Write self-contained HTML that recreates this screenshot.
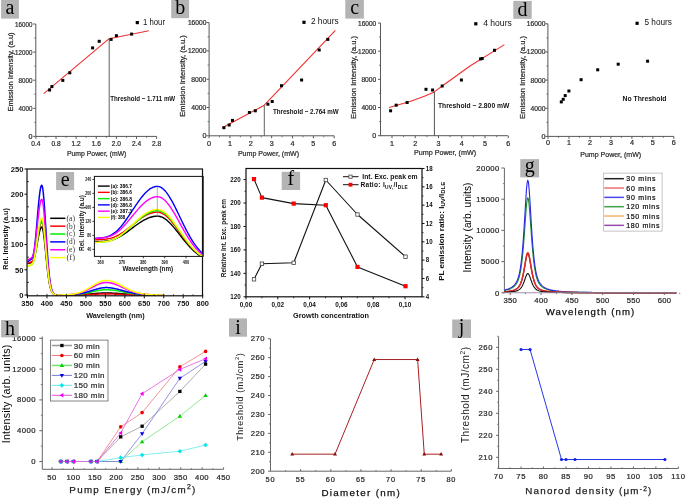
<!DOCTYPE html>
<html><head><meta charset="utf-8"><style>
html,body{margin:0;padding:0;background:#fff;}
svg{display:block;filter:blur(0.3px);}
</style></head><body>
<svg width="685" height="499" viewBox="0 0 685 499" font-family="Liberation Sans, Arial, sans-serif">
<rect width="685" height="499" fill="#fff"/>
<rect x="1.10" y="0.00" width="17.80" height="18.60" fill="#b4b4b4"/>
<text x="10.00" y="14.20" font-size="20" text-anchor="middle" fill="#000" font-family="Liberation Serif, Times New Roman, serif">a</text>
<line x1="35.80" y1="24.00" x2="35.80" y2="136.40" stroke="#585858" stroke-width="1" />
<line x1="35.80" y1="136.40" x2="156.60" y2="136.40" stroke="#585858" stroke-width="1" />
<line x1="33.30" y1="136.40" x2="35.80" y2="136.40" stroke="#585858" stroke-width="1" />
<text x="32.40" y="138.90" font-size="7.2" text-anchor="end" fill="#2a2a2a" stroke="#2a2a2a" stroke-width="0.22">0</text>
<line x1="33.30" y1="108.30" x2="35.80" y2="108.30" stroke="#585858" stroke-width="1" />
<text x="32.40" y="110.80" font-size="7.2" text-anchor="end" fill="#2a2a2a" textLength="14.00" lengthAdjust="spacingAndGlyphs" stroke="#2a2a2a" stroke-width="0.22">4000</text>
<line x1="33.30" y1="80.20" x2="35.80" y2="80.20" stroke="#585858" stroke-width="1" />
<text x="32.40" y="82.70" font-size="7.2" text-anchor="end" fill="#2a2a2a" textLength="14.00" lengthAdjust="spacingAndGlyphs" stroke="#2a2a2a" stroke-width="0.22">8000</text>
<line x1="33.30" y1="52.10" x2="35.80" y2="52.10" stroke="#585858" stroke-width="1" />
<text x="32.40" y="54.60" font-size="7.2" text-anchor="end" fill="#2a2a2a" textLength="17.30" lengthAdjust="spacingAndGlyphs" stroke="#2a2a2a" stroke-width="0.22">12000</text>
<line x1="33.30" y1="24.00" x2="35.80" y2="24.00" stroke="#585858" stroke-width="1" />
<text x="32.40" y="26.50" font-size="7.2" text-anchor="end" fill="#2a2a2a" textLength="17.30" lengthAdjust="spacingAndGlyphs" stroke="#2a2a2a" stroke-width="0.22">16000</text>
<line x1="34.30" y1="122.35" x2="35.80" y2="122.35" stroke="#585858" stroke-width="0.8" />
<line x1="34.30" y1="94.25" x2="35.80" y2="94.25" stroke="#585858" stroke-width="0.8" />
<line x1="34.30" y1="66.15" x2="35.80" y2="66.15" stroke="#585858" stroke-width="0.8" />
<line x1="34.30" y1="38.05" x2="35.80" y2="38.05" stroke="#585858" stroke-width="0.8" />
<line x1="35.90" y1="136.40" x2="35.90" y2="138.90" stroke="#585858" stroke-width="1" />
<text x="35.90" y="145.60" font-size="7.2" text-anchor="middle" fill="#2a2a2a" textLength="9.20" lengthAdjust="spacingAndGlyphs" stroke="#2a2a2a" stroke-width="0.22">0.4</text>
<line x1="56.02" y1="136.40" x2="56.02" y2="138.90" stroke="#585858" stroke-width="1" />
<text x="56.02" y="145.60" font-size="7.2" text-anchor="middle" fill="#2a2a2a" textLength="9.20" lengthAdjust="spacingAndGlyphs" stroke="#2a2a2a" stroke-width="0.22">0.8</text>
<line x1="76.14" y1="136.40" x2="76.14" y2="138.90" stroke="#585858" stroke-width="1" />
<text x="76.14" y="145.60" font-size="7.2" text-anchor="middle" fill="#2a2a2a" textLength="9.20" lengthAdjust="spacingAndGlyphs" stroke="#2a2a2a" stroke-width="0.22">1.2</text>
<line x1="96.26" y1="136.40" x2="96.26" y2="138.90" stroke="#585858" stroke-width="1" />
<text x="96.26" y="145.60" font-size="7.2" text-anchor="middle" fill="#2a2a2a" textLength="9.20" lengthAdjust="spacingAndGlyphs" stroke="#2a2a2a" stroke-width="0.22">1.6</text>
<line x1="116.38" y1="136.40" x2="116.38" y2="138.90" stroke="#585858" stroke-width="1" />
<text x="116.38" y="145.60" font-size="7.2" text-anchor="middle" fill="#2a2a2a" textLength="9.20" lengthAdjust="spacingAndGlyphs" stroke="#2a2a2a" stroke-width="0.22">2.0</text>
<line x1="136.50" y1="136.40" x2="136.50" y2="138.90" stroke="#585858" stroke-width="1" />
<text x="136.50" y="145.60" font-size="7.2" text-anchor="middle" fill="#2a2a2a" textLength="9.20" lengthAdjust="spacingAndGlyphs" stroke="#2a2a2a" stroke-width="0.22">2.4</text>
<line x1="156.62" y1="136.40" x2="156.62" y2="138.90" stroke="#585858" stroke-width="1" />
<text x="156.62" y="145.60" font-size="7.2" text-anchor="middle" fill="#2a2a2a" textLength="9.20" lengthAdjust="spacingAndGlyphs" stroke="#2a2a2a" stroke-width="0.22">2.8</text>
<line x1="45.96" y1="136.40" x2="45.96" y2="137.90" stroke="#585858" stroke-width="0.8" />
<line x1="66.08" y1="136.40" x2="66.08" y2="137.90" stroke="#585858" stroke-width="0.8" />
<line x1="86.20" y1="136.40" x2="86.20" y2="137.90" stroke="#585858" stroke-width="0.8" />
<line x1="106.32" y1="136.40" x2="106.32" y2="137.90" stroke="#585858" stroke-width="0.8" />
<line x1="126.44" y1="136.40" x2="126.44" y2="137.90" stroke="#585858" stroke-width="0.8" />
<line x1="146.56" y1="136.40" x2="146.56" y2="137.90" stroke="#585858" stroke-width="0.8" />
<text x="12.90" y="72.00" font-size="7.2" text-anchor="middle" fill="#2a2a2a" textLength="79.20" lengthAdjust="spacingAndGlyphs" transform="rotate(-90 12.90 72.00)" stroke="#2a2a2a" stroke-width="0.22">Emission Intensity, (a.u)</text>
<text x="96.70" y="155.70" font-size="7.2" text-anchor="middle" fill="#2a2a2a" textLength="59.40" lengthAdjust="spacingAndGlyphs" stroke="#2a2a2a" stroke-width="0.22">Pump Power, (mW)</text>
<polyline points="43.70,93.60 109.10,38.70 148.80,30.80" fill="none" stroke="#f03030" stroke-width="1.1" stroke-linejoin="round" />
<line x1="109.20" y1="38.70" x2="109.20" y2="136.40" stroke="#505050" stroke-width="0.9" />
<rect x="48.10" y="88.50" width="3.00" height="3.00" fill="#000"/>
<rect x="50.40" y="85.10" width="3.00" height="3.00" fill="#000"/>
<rect x="61.30" y="78.90" width="3.00" height="3.00" fill="#000"/>
<rect x="68.30" y="71.30" width="3.00" height="3.00" fill="#000"/>
<rect x="91.10" y="46.40" width="3.00" height="3.00" fill="#000"/>
<rect x="97.70" y="39.80" width="3.00" height="3.00" fill="#000"/>
<rect x="109.60" y="37.90" width="3.00" height="3.00" fill="#000"/>
<rect x="114.90" y="34.20" width="3.00" height="3.00" fill="#000"/>
<rect x="130.10" y="32.60" width="3.00" height="3.00" fill="#000"/>
<rect x="135.70" y="21.00" width="3.20" height="3.20" fill="#000"/>
<text x="143.00" y="24.80" font-size="9" fill="#111" textLength="22.00" lengthAdjust="spacingAndGlyphs">1 hour</text>
<text x="110.20" y="100.60" font-size="7" font-weight="bold" fill="#111" textLength="65.00" lengthAdjust="spacingAndGlyphs">Threshold ~ 1.711 mW</text>
<rect x="171.20" y="0.00" width="17.90" height="18.20" fill="#b4b4b4"/>
<text x="180.15" y="14.20" font-size="20" text-anchor="middle" fill="#000" font-family="Liberation Serif, Times New Roman, serif">b</text>
<line x1="209.10" y1="22.60" x2="209.10" y2="135.80" stroke="#585858" stroke-width="1" />
<line x1="209.10" y1="135.80" x2="334.20" y2="135.80" stroke="#585858" stroke-width="1" />
<line x1="206.60" y1="135.80" x2="209.10" y2="135.80" stroke="#585858" stroke-width="1" />
<text x="206.40" y="138.30" font-size="7.2" text-anchor="end" fill="#2a2a2a" stroke="#2a2a2a" stroke-width="0.22">0</text>
<line x1="206.60" y1="107.50" x2="209.10" y2="107.50" stroke="#585858" stroke-width="1" />
<text x="206.40" y="110.00" font-size="7.2" text-anchor="end" fill="#2a2a2a" textLength="15.10" lengthAdjust="spacingAndGlyphs" stroke="#2a2a2a" stroke-width="0.22">4000</text>
<line x1="206.60" y1="79.20" x2="209.10" y2="79.20" stroke="#585858" stroke-width="1" />
<text x="206.40" y="81.70" font-size="7.2" text-anchor="end" fill="#2a2a2a" textLength="15.10" lengthAdjust="spacingAndGlyphs" stroke="#2a2a2a" stroke-width="0.22">8000</text>
<line x1="206.60" y1="50.90" x2="209.10" y2="50.90" stroke="#585858" stroke-width="1" />
<text x="206.40" y="53.40" font-size="7.2" text-anchor="end" fill="#2a2a2a" textLength="18.50" lengthAdjust="spacingAndGlyphs" stroke="#2a2a2a" stroke-width="0.22">12000</text>
<line x1="206.60" y1="22.60" x2="209.10" y2="22.60" stroke="#585858" stroke-width="1" />
<text x="206.40" y="25.10" font-size="7.2" text-anchor="end" fill="#2a2a2a" textLength="18.50" lengthAdjust="spacingAndGlyphs" stroke="#2a2a2a" stroke-width="0.22">16000</text>
<line x1="207.60" y1="121.65" x2="209.10" y2="121.65" stroke="#585858" stroke-width="0.8" />
<line x1="207.60" y1="93.35" x2="209.10" y2="93.35" stroke="#585858" stroke-width="0.8" />
<line x1="207.60" y1="65.05" x2="209.10" y2="65.05" stroke="#585858" stroke-width="0.8" />
<line x1="207.60" y1="36.75" x2="209.10" y2="36.75" stroke="#585858" stroke-width="0.8" />
<line x1="209.10" y1="135.80" x2="209.10" y2="138.30" stroke="#585858" stroke-width="1" />
<text x="209.10" y="145.50" font-size="7.2" text-anchor="middle" fill="#2a2a2a" stroke="#2a2a2a" stroke-width="0.22">0</text>
<line x1="229.95" y1="135.80" x2="229.95" y2="138.30" stroke="#585858" stroke-width="1" />
<text x="229.95" y="145.50" font-size="7.2" text-anchor="middle" fill="#2a2a2a" stroke="#2a2a2a" stroke-width="0.22">1</text>
<line x1="250.80" y1="135.80" x2="250.80" y2="138.30" stroke="#585858" stroke-width="1" />
<text x="250.80" y="145.50" font-size="7.2" text-anchor="middle" fill="#2a2a2a" stroke="#2a2a2a" stroke-width="0.22">2</text>
<line x1="271.65" y1="135.80" x2="271.65" y2="138.30" stroke="#585858" stroke-width="1" />
<text x="271.65" y="145.50" font-size="7.2" text-anchor="middle" fill="#2a2a2a" stroke="#2a2a2a" stroke-width="0.22">3</text>
<line x1="292.50" y1="135.80" x2="292.50" y2="138.30" stroke="#585858" stroke-width="1" />
<text x="292.50" y="145.50" font-size="7.2" text-anchor="middle" fill="#2a2a2a" stroke="#2a2a2a" stroke-width="0.22">4</text>
<line x1="313.35" y1="135.80" x2="313.35" y2="138.30" stroke="#585858" stroke-width="1" />
<text x="313.35" y="145.50" font-size="7.2" text-anchor="middle" fill="#2a2a2a" stroke="#2a2a2a" stroke-width="0.22">5</text>
<line x1="334.20" y1="135.80" x2="334.20" y2="138.30" stroke="#585858" stroke-width="1" />
<text x="334.20" y="145.50" font-size="7.2" text-anchor="middle" fill="#2a2a2a" stroke="#2a2a2a" stroke-width="0.22">6</text>
<line x1="219.53" y1="135.80" x2="219.53" y2="137.30" stroke="#585858" stroke-width="0.8" />
<line x1="240.38" y1="135.80" x2="240.38" y2="137.30" stroke="#585858" stroke-width="0.8" />
<line x1="261.23" y1="135.80" x2="261.23" y2="137.30" stroke="#585858" stroke-width="0.8" />
<line x1="282.07" y1="135.80" x2="282.07" y2="137.30" stroke="#585858" stroke-width="0.8" />
<line x1="302.93" y1="135.80" x2="302.93" y2="137.30" stroke="#585858" stroke-width="0.8" />
<line x1="323.77" y1="135.80" x2="323.77" y2="137.30" stroke="#585858" stroke-width="0.8" />
<text x="184.90" y="76.00" font-size="7.2" text-anchor="middle" fill="#2a2a2a" textLength="81.30" lengthAdjust="spacingAndGlyphs" transform="rotate(-90 184.90 76.00)" stroke="#2a2a2a" stroke-width="0.22">Emission Intensity, (a.u.)</text>
<text x="268.50" y="155.60" font-size="7.2" text-anchor="middle" fill="#2a2a2a" textLength="61.20" lengthAdjust="spacingAndGlyphs" stroke="#2a2a2a" stroke-width="0.22">Pump Power, (mW)</text>
<polyline points="222.30,127.70 264.30,105.20 335.40,30.40" fill="none" stroke="#f03030" stroke-width="1.1" stroke-linejoin="round" />
<line x1="264.30" y1="105.20" x2="264.30" y2="135.80" stroke="#505050" stroke-width="0.9" />
<rect x="222.40" y="126.20" width="3.00" height="3.00" fill="#000"/>
<rect x="227.70" y="123.50" width="3.00" height="3.00" fill="#000"/>
<rect x="231.00" y="118.90" width="3.00" height="3.00" fill="#000"/>
<rect x="247.90" y="111.00" width="3.00" height="3.00" fill="#000"/>
<rect x="253.80" y="109.30" width="3.00" height="3.00" fill="#000"/>
<rect x="266.40" y="102.70" width="3.00" height="3.00" fill="#000"/>
<rect x="270.70" y="100.00" width="3.00" height="3.00" fill="#000"/>
<rect x="280.00" y="84.20" width="3.00" height="3.00" fill="#000"/>
<rect x="300.10" y="78.50" width="3.00" height="3.00" fill="#000"/>
<rect x="317.70" y="48.50" width="3.00" height="3.00" fill="#000"/>
<rect x="326.30" y="37.90" width="3.00" height="3.00" fill="#000"/>
<rect x="302.40" y="20.70" width="3.20" height="3.20" fill="#000"/>
<text x="310.90" y="24.20" font-size="9" fill="#111" textLength="27.80" lengthAdjust="spacingAndGlyphs">2 hours</text>
<text x="272.90" y="114.20" font-size="7" font-weight="bold" fill="#111" textLength="65.80" lengthAdjust="spacingAndGlyphs">Threshold ~ 2.764 mW</text>
<rect x="345.30" y="0.00" width="18.60" height="18.60" fill="#b4b4b4"/>
<text x="354.60" y="14.10" font-size="20" text-anchor="middle" fill="#000" font-family="Liberation Serif, Times New Roman, serif">c</text>
<line x1="380.50" y1="23.00" x2="380.50" y2="135.70" stroke="#585858" stroke-width="1" />
<line x1="380.50" y1="135.70" x2="507.90" y2="135.70" stroke="#585858" stroke-width="1" />
<line x1="378.00" y1="135.70" x2="380.50" y2="135.70" stroke="#585858" stroke-width="1" />
<text x="376.20" y="138.20" font-size="7.2" text-anchor="end" fill="#2a2a2a" stroke="#2a2a2a" stroke-width="0.22">0</text>
<line x1="378.00" y1="107.52" x2="380.50" y2="107.52" stroke="#585858" stroke-width="1" />
<text x="376.20" y="110.02" font-size="7.2" text-anchor="end" fill="#2a2a2a" textLength="14.80" lengthAdjust="spacingAndGlyphs" stroke="#2a2a2a" stroke-width="0.22">4000</text>
<line x1="378.00" y1="79.35" x2="380.50" y2="79.35" stroke="#585858" stroke-width="1" />
<text x="376.20" y="81.85" font-size="7.2" text-anchor="end" fill="#2a2a2a" textLength="14.80" lengthAdjust="spacingAndGlyphs" stroke="#2a2a2a" stroke-width="0.22">8000</text>
<line x1="378.00" y1="51.17" x2="380.50" y2="51.17" stroke="#585858" stroke-width="1" />
<text x="376.20" y="53.67" font-size="7.2" text-anchor="end" fill="#2a2a2a" textLength="18.20" lengthAdjust="spacingAndGlyphs" stroke="#2a2a2a" stroke-width="0.22">12000</text>
<line x1="378.00" y1="23.00" x2="380.50" y2="23.00" stroke="#585858" stroke-width="1" />
<text x="376.20" y="25.50" font-size="7.2" text-anchor="end" fill="#2a2a2a" textLength="18.20" lengthAdjust="spacingAndGlyphs" stroke="#2a2a2a" stroke-width="0.22">16000</text>
<line x1="379.00" y1="121.61" x2="380.50" y2="121.61" stroke="#585858" stroke-width="0.8" />
<line x1="379.00" y1="93.44" x2="380.50" y2="93.44" stroke="#585858" stroke-width="0.8" />
<line x1="379.00" y1="65.26" x2="380.50" y2="65.26" stroke="#585858" stroke-width="0.8" />
<line x1="379.00" y1="37.09" x2="380.50" y2="37.09" stroke="#585858" stroke-width="0.8" />
<line x1="392.00" y1="135.70" x2="392.00" y2="138.20" stroke="#585858" stroke-width="1" />
<text x="392.00" y="145.90" font-size="7.2" text-anchor="middle" fill="#2a2a2a" stroke="#2a2a2a" stroke-width="0.22">1</text>
<line x1="415.25" y1="135.70" x2="415.25" y2="138.20" stroke="#585858" stroke-width="1" />
<text x="415.25" y="145.90" font-size="7.2" text-anchor="middle" fill="#2a2a2a" stroke="#2a2a2a" stroke-width="0.22">2</text>
<line x1="438.50" y1="135.70" x2="438.50" y2="138.20" stroke="#585858" stroke-width="1" />
<text x="438.50" y="145.90" font-size="7.2" text-anchor="middle" fill="#2a2a2a" stroke="#2a2a2a" stroke-width="0.22">3</text>
<line x1="461.75" y1="135.70" x2="461.75" y2="138.20" stroke="#585858" stroke-width="1" />
<text x="461.75" y="145.90" font-size="7.2" text-anchor="middle" fill="#2a2a2a" stroke="#2a2a2a" stroke-width="0.22">4</text>
<line x1="485.00" y1="135.70" x2="485.00" y2="138.20" stroke="#585858" stroke-width="1" />
<text x="485.00" y="145.90" font-size="7.2" text-anchor="middle" fill="#2a2a2a" stroke="#2a2a2a" stroke-width="0.22">5</text>
<line x1="508.25" y1="135.70" x2="508.25" y2="138.20" stroke="#585858" stroke-width="1" />
<text x="508.25" y="145.90" font-size="7.2" text-anchor="middle" fill="#2a2a2a" stroke="#2a2a2a" stroke-width="0.22">6</text>
<line x1="403.62" y1="135.70" x2="403.62" y2="137.20" stroke="#585858" stroke-width="0.8" />
<line x1="426.88" y1="135.70" x2="426.88" y2="137.20" stroke="#585858" stroke-width="0.8" />
<line x1="450.12" y1="135.70" x2="450.12" y2="137.20" stroke="#585858" stroke-width="0.8" />
<line x1="473.38" y1="135.70" x2="473.38" y2="137.20" stroke="#585858" stroke-width="0.8" />
<line x1="496.62" y1="135.70" x2="496.62" y2="137.20" stroke="#585858" stroke-width="0.8" />
<text x="355.80" y="77.40" font-size="7.2" text-anchor="middle" fill="#2a2a2a" textLength="83.00" lengthAdjust="spacingAndGlyphs" transform="rotate(-90 355.80 77.40)" stroke="#2a2a2a" stroke-width="0.22">Emission Intensity, (a.u.)</text>
<text x="445.00" y="155.40" font-size="7.2" text-anchor="middle" fill="#2a2a2a" textLength="62.20" lengthAdjust="spacingAndGlyphs" stroke="#2a2a2a" stroke-width="0.22">Pump Power, (mW)</text>
<line x1="380.50" y1="135.70" x2="381.50" y2="135.70" stroke="#585858" stroke-width="1" />
<polyline points="389.00,107.50 410.00,101.50 425.00,96.00 434.30,91.90 445.00,84.00 470.00,66.00 504.40,44.60" fill="none" stroke="#f03030" stroke-width="1.1" stroke-linejoin="round" />
<line x1="434.40" y1="92.00" x2="434.40" y2="135.70" stroke="#404040" stroke-width="0.9" />
<rect x="389.10" y="109.30" width="3.00" height="3.00" fill="#000"/>
<rect x="394.70" y="103.70" width="3.00" height="3.00" fill="#000"/>
<rect x="405.60" y="101.00" width="3.00" height="3.00" fill="#000"/>
<rect x="424.50" y="87.80" width="3.00" height="3.00" fill="#000"/>
<rect x="431.10" y="88.50" width="3.00" height="3.00" fill="#000"/>
<rect x="440.70" y="84.50" width="3.00" height="3.00" fill="#000"/>
<rect x="459.90" y="78.50" width="3.00" height="3.00" fill="#000"/>
<rect x="479.10" y="57.40" width="3.00" height="3.00" fill="#000"/>
<rect x="480.70" y="57.00" width="3.00" height="3.00" fill="#000"/>
<rect x="493.00" y="48.80" width="3.00" height="3.00" fill="#000"/>
<rect x="474.20" y="22.20" width="3.20" height="3.20" fill="#000"/>
<text x="483.20" y="25.80" font-size="9" fill="#111" textLength="28.60" lengthAdjust="spacingAndGlyphs">4 hours</text>
<text x="437.90" y="108.40" font-size="7" font-weight="bold" fill="#111" textLength="71.50" lengthAdjust="spacingAndGlyphs">Threshold ~ 2.800 mW</text>
<rect x="513.30" y="0.90" width="18.40" height="17.90" fill="#b4b4b4"/>
<text x="522.50" y="16.40" font-size="20" text-anchor="middle" fill="#000" font-family="Liberation Serif, Times New Roman, serif">d</text>
<line x1="547.90" y1="23.80" x2="547.90" y2="136.40" stroke="#585858" stroke-width="1" />
<line x1="547.90" y1="136.40" x2="673.80" y2="136.40" stroke="#585858" stroke-width="1" />
<line x1="545.40" y1="136.40" x2="547.90" y2="136.40" stroke="#585858" stroke-width="1" />
<text x="545.40" y="138.90" font-size="7.2" text-anchor="end" fill="#2a2a2a" stroke="#2a2a2a" stroke-width="0.22">0</text>
<line x1="545.40" y1="108.25" x2="547.90" y2="108.25" stroke="#585858" stroke-width="1" />
<text x="545.40" y="110.75" font-size="7.2" text-anchor="end" fill="#2a2a2a" textLength="15.00" lengthAdjust="spacingAndGlyphs" stroke="#2a2a2a" stroke-width="0.22">4000</text>
<line x1="545.40" y1="80.10" x2="547.90" y2="80.10" stroke="#585858" stroke-width="1" />
<text x="545.40" y="82.60" font-size="7.2" text-anchor="end" fill="#2a2a2a" textLength="15.00" lengthAdjust="spacingAndGlyphs" stroke="#2a2a2a" stroke-width="0.22">8000</text>
<line x1="545.40" y1="51.95" x2="547.90" y2="51.95" stroke="#585858" stroke-width="1" />
<text x="545.40" y="54.45" font-size="7.2" text-anchor="end" fill="#2a2a2a" textLength="18.60" lengthAdjust="spacingAndGlyphs" stroke="#2a2a2a" stroke-width="0.22">12000</text>
<line x1="545.40" y1="23.80" x2="547.90" y2="23.80" stroke="#585858" stroke-width="1" />
<text x="545.40" y="26.30" font-size="7.2" text-anchor="end" fill="#2a2a2a" textLength="18.60" lengthAdjust="spacingAndGlyphs" stroke="#2a2a2a" stroke-width="0.22">16000</text>
<line x1="546.40" y1="122.33" x2="547.90" y2="122.33" stroke="#585858" stroke-width="0.8" />
<line x1="546.40" y1="94.18" x2="547.90" y2="94.18" stroke="#585858" stroke-width="0.8" />
<line x1="546.40" y1="66.03" x2="547.90" y2="66.03" stroke="#585858" stroke-width="0.8" />
<line x1="546.40" y1="37.88" x2="547.90" y2="37.88" stroke="#585858" stroke-width="0.8" />
<line x1="548.00" y1="136.40" x2="548.00" y2="138.90" stroke="#585858" stroke-width="1" />
<text x="548.00" y="145.20" font-size="7.2" text-anchor="middle" fill="#2a2a2a" stroke="#2a2a2a" stroke-width="0.22">0</text>
<line x1="568.97" y1="136.40" x2="568.97" y2="138.90" stroke="#585858" stroke-width="1" />
<text x="568.97" y="145.20" font-size="7.2" text-anchor="middle" fill="#2a2a2a" stroke="#2a2a2a" stroke-width="0.22">1</text>
<line x1="589.94" y1="136.40" x2="589.94" y2="138.90" stroke="#585858" stroke-width="1" />
<text x="589.94" y="145.20" font-size="7.2" text-anchor="middle" fill="#2a2a2a" stroke="#2a2a2a" stroke-width="0.22">2</text>
<line x1="610.91" y1="136.40" x2="610.91" y2="138.90" stroke="#585858" stroke-width="1" />
<text x="610.91" y="145.20" font-size="7.2" text-anchor="middle" fill="#2a2a2a" stroke="#2a2a2a" stroke-width="0.22">3</text>
<line x1="631.88" y1="136.40" x2="631.88" y2="138.90" stroke="#585858" stroke-width="1" />
<text x="631.88" y="145.20" font-size="7.2" text-anchor="middle" fill="#2a2a2a" stroke="#2a2a2a" stroke-width="0.22">4</text>
<line x1="652.85" y1="136.40" x2="652.85" y2="138.90" stroke="#585858" stroke-width="1" />
<text x="652.85" y="145.20" font-size="7.2" text-anchor="middle" fill="#2a2a2a" stroke="#2a2a2a" stroke-width="0.22">5</text>
<line x1="673.82" y1="136.40" x2="673.82" y2="138.90" stroke="#585858" stroke-width="1" />
<text x="673.82" y="145.20" font-size="7.2" text-anchor="middle" fill="#2a2a2a" stroke="#2a2a2a" stroke-width="0.22">6</text>
<line x1="558.49" y1="136.40" x2="558.49" y2="137.90" stroke="#585858" stroke-width="0.8" />
<line x1="579.46" y1="136.40" x2="579.46" y2="137.90" stroke="#585858" stroke-width="0.8" />
<line x1="600.42" y1="136.40" x2="600.42" y2="137.90" stroke="#585858" stroke-width="0.8" />
<line x1="621.39" y1="136.40" x2="621.39" y2="137.90" stroke="#585858" stroke-width="0.8" />
<line x1="642.37" y1="136.40" x2="642.37" y2="137.90" stroke="#585858" stroke-width="0.8" />
<line x1="663.34" y1="136.40" x2="663.34" y2="137.90" stroke="#585858" stroke-width="0.8" />
<text x="525.00" y="77.40" font-size="7.2" text-anchor="middle" fill="#2a2a2a" textLength="83.00" lengthAdjust="spacingAndGlyphs" transform="rotate(-90 525.00 77.40)" stroke="#2a2a2a" stroke-width="0.22">Emission Intensity, (a.u.)</text>
<text x="610.70" y="156.50" font-size="7.2" text-anchor="middle" fill="#2a2a2a" textLength="61.00" lengthAdjust="spacingAndGlyphs" stroke="#2a2a2a" stroke-width="0.22">Pump Power, (mW)</text>
<rect x="559.80" y="100.40" width="3.00" height="3.00" fill="#000"/>
<rect x="561.70" y="97.80" width="3.00" height="3.00" fill="#000"/>
<rect x="563.70" y="94.10" width="3.00" height="3.00" fill="#000"/>
<rect x="567.40" y="89.50" width="3.00" height="3.00" fill="#000"/>
<rect x="579.60" y="78.20" width="3.00" height="3.00" fill="#000"/>
<rect x="596.20" y="68.30" width="3.00" height="3.00" fill="#000"/>
<rect x="616.70" y="62.70" width="3.00" height="3.00" fill="#000"/>
<rect x="646.10" y="59.70" width="3.00" height="3.00" fill="#000"/>
<rect x="635.50" y="21.70" width="3.20" height="3.20" fill="#000"/>
<text x="644.50" y="25.30" font-size="9" fill="#111" textLength="27.40" lengthAdjust="spacingAndGlyphs">5 hours</text>
<text x="622.50" y="100.70" font-size="7" font-weight="bold" fill="#111" textLength="44.00" lengthAdjust="spacingAndGlyphs">No Threshold</text>
<polyline points="27.50,263.75 28.08,263.58 28.67,263.40 29.25,263.20 29.84,263.01 30.42,262.82 31.00,262.63 31.59,262.38 32.17,262.00 32.76,261.38 33.34,260.41 33.92,258.99 34.51,257.08 35.09,254.70 35.68,251.92 36.26,248.82 36.84,245.53 37.43,242.18 38.01,238.89 38.60,235.80 39.18,233.02 39.76,230.67 40.35,228.83 40.93,227.60 41.51,227.01 42.10,227.22 42.68,228.75 43.27,231.55 43.85,235.46 44.43,240.27 45.02,245.71 45.60,251.51 46.19,257.41 46.77,263.17 47.35,268.59 47.94,273.54 48.52,277.91 49.11,281.67 49.69,284.81 50.27,287.37 50.86,289.40 51.44,290.98 52.03,292.17 52.61,293.05 53.19,293.68 53.78,294.12 54.36,294.43 54.95,294.64 55.53,294.77 56.11,294.86 56.70,294.91 57.28,294.95 57.87,294.97 58.45,294.98 59.03,294.98 59.62,294.99 60.20,294.99 60.79,294.99 61.37,294.99 61.95,294.99 62.54,294.98 63.12,294.98 63.70,294.98 64.29,294.98 64.87,294.97 65.46,294.97 66.04,294.97 66.62,294.96 67.21,294.96 67.79,294.95 68.38,294.95 68.96,294.94 69.54,294.93 70.13,294.93 70.71,294.92 71.30,294.91 71.88,294.90 72.46,294.89 73.05,294.88 73.63,294.86 74.22,294.85 74.80,294.83 75.38,294.82 75.97,294.80 76.55,294.78 77.14,294.76 77.72,294.74 78.30,294.72 78.89,294.70 79.47,294.67 80.06,294.64 80.64,294.61 81.22,294.58 81.81,294.55 82.39,294.52 82.98,294.49 83.56,294.45 84.14,294.41 84.73,294.37 85.31,294.33 85.89,294.29 86.48,294.25 87.06,294.20 87.65,294.16 88.23,294.11 88.81,294.06 89.40,294.01 89.98,293.96 90.57,293.91 91.15,293.86 91.73,293.81 92.32,293.76 92.90,293.71 93.49,293.66 94.07,293.61 94.65,293.56 95.24,293.51 95.82,293.46 96.41,293.42 96.99,293.37 97.57,293.33 98.16,293.29 98.74,293.25 99.33,293.21 99.91,293.17 100.49,293.14 101.08,293.11 101.66,293.08 102.25,293.06 102.83,293.04 103.41,293.02 104.00,293.01 104.58,293.00 105.17,292.99 105.75,292.98 106.33,292.98 106.92,292.99 107.50,292.99 108.09,293.00 108.67,293.01 109.25,293.02 109.84,293.03 110.42,293.05 111.00,293.07 111.59,293.09 112.17,293.12 112.76,293.14 113.34,293.17 113.92,293.20 114.51,293.23 115.09,293.26 115.68,293.30 116.26,293.34 116.84,293.37 117.43,293.41 118.01,293.45 118.60,293.49 119.18,293.53 119.76,293.58 120.35,293.62 120.93,293.66 121.52,293.70 122.10,293.75 122.68,293.79 123.27,293.84 123.85,293.88 124.44,293.92 125.02,293.97 125.60,294.01 126.19,294.05 126.77,294.09 127.36,294.13 127.94,294.17 128.52,294.21 129.11,294.25 129.69,294.29 130.28,294.32 130.86,294.36 131.44,294.39 132.03,294.42 132.61,294.46 133.19,294.49 133.78,294.52 134.36,294.55 134.95,294.57 135.53,294.60 136.11,294.62 136.70,294.65 137.28,294.67 137.87,294.69 138.45,294.71 139.03,294.73 139.62,294.75 140.20,294.77 140.79,294.79 141.37,294.80 141.95,294.82 142.54,294.83 143.12,294.84 143.71,294.86 144.29,294.87 144.87,294.88 145.46,294.89 146.04,294.90 146.63,294.91 147.21,294.91 147.79,294.92 148.38,294.93 148.96,294.93 149.55,294.94 150.13,294.95 150.71,294.95 151.30,294.96 151.88,294.96 152.47,294.96 153.05,294.97 153.63,294.97 154.22,294.97 154.80,294.98 155.39,294.98 155.97,294.98 156.55,294.98 157.14,294.98 157.72,294.99 158.30,294.99 158.89,294.99 159.47,294.99 160.06,294.99 160.64,294.99 161.22,294.99 161.81,294.99 162.39,294.99 162.98,295.00 163.56,295.00" fill="none" stroke="#000000" stroke-width="1.5" stroke-linejoin="round" />
<polyline points="27.50,263.25 28.08,263.06 28.67,262.85 29.25,262.63 29.84,262.42 30.42,262.20 31.00,261.98 31.59,261.70 32.17,261.28 32.76,260.59 33.34,259.49 33.92,257.90 34.51,255.76 35.09,253.09 35.68,249.95 36.26,246.48 36.84,242.78 37.43,239.01 38.01,235.32 38.60,231.84 39.18,228.72 39.76,226.08 40.35,224.03 40.93,222.64 41.51,221.97 42.10,222.20 42.68,223.84 43.27,226.85 43.85,231.05 44.43,236.22 45.02,242.06 45.60,248.29 46.19,254.63 46.77,260.81 47.35,266.64 47.94,271.95 48.52,276.64 49.11,280.68 49.69,284.06 50.27,286.81 50.86,288.99 51.44,290.68 52.03,291.96 52.61,292.90 53.19,293.58 53.78,294.06 54.36,294.39 54.95,294.61 55.53,294.76 56.11,294.85 56.70,294.91 57.28,294.95 57.87,294.97 58.45,294.98 59.03,294.99 59.62,294.99 60.20,294.99 60.79,294.99 61.37,294.99 61.95,294.99 62.54,294.99 63.12,294.99 63.70,294.99 64.29,294.99 64.87,294.99 65.46,294.99 66.04,294.98 66.62,294.98 67.21,294.98 67.79,294.98 68.38,294.97 68.96,294.97 69.54,294.97 70.13,294.96 70.71,294.96 71.30,294.95 71.88,294.95 72.46,294.94 73.05,294.94 73.63,294.93 74.22,294.92 74.80,294.92 75.38,294.91 75.97,294.90 76.55,294.89 77.14,294.88 77.72,294.87 78.30,294.86 78.89,294.85 79.47,294.84 80.06,294.82 80.64,294.81 81.22,294.79 81.81,294.78 82.39,294.76 82.98,294.74 83.56,294.72 84.14,294.71 84.73,294.69 85.31,294.67 85.89,294.64 86.48,294.62 87.06,294.60 87.65,294.58 88.23,294.55 88.81,294.53 89.40,294.51 89.98,294.48 90.57,294.46 91.15,294.43 91.73,294.41 92.32,294.38 92.90,294.35 93.49,294.33 94.07,294.30 94.65,294.28 95.24,294.26 95.82,294.23 96.41,294.21 96.99,294.19 97.57,294.16 98.16,294.14 98.74,294.12 99.33,294.10 99.91,294.09 100.49,294.07 101.08,294.06 101.66,294.04 102.25,294.03 102.83,294.02 103.41,294.01 104.00,294.00 104.58,294.00 105.17,293.99 105.75,293.99 106.33,293.99 106.92,293.99 107.50,294.00 108.09,294.00 108.67,294.00 109.25,294.01 109.84,294.02 110.42,294.03 111.00,294.04 111.59,294.05 112.17,294.06 112.76,294.07 113.34,294.09 113.92,294.10 114.51,294.12 115.09,294.13 115.68,294.15 116.26,294.17 116.84,294.19 117.43,294.21 118.01,294.23 118.60,294.25 119.18,294.27 119.76,294.29 120.35,294.31 120.93,294.33 121.52,294.35 122.10,294.37 122.68,294.40 123.27,294.42 123.85,294.44 124.44,294.46 125.02,294.48 125.60,294.50 126.19,294.52 126.77,294.55 127.36,294.57 127.94,294.59 128.52,294.61 129.11,294.62 129.69,294.64 130.28,294.66 130.86,294.68 131.44,294.70 132.03,294.71 132.61,294.73 133.19,294.74 133.78,294.76 134.36,294.77 134.95,294.79 135.53,294.80 136.11,294.81 136.70,294.82 137.28,294.84 137.87,294.85 138.45,294.86 139.03,294.87 139.62,294.88 140.20,294.88 140.79,294.89 141.37,294.90 141.95,294.91 142.54,294.92 143.12,294.92 143.71,294.93 144.29,294.93 144.87,294.94 145.46,294.94 146.04,294.95 146.63,294.95 147.21,294.96 147.79,294.96 148.38,294.96 148.96,294.97 149.55,294.97 150.13,294.97 150.71,294.98 151.30,294.98 151.88,294.98 152.47,294.98 153.05,294.98 153.63,294.99 154.22,294.99 154.80,294.99 155.39,294.99 155.97,294.99 156.55,294.99 157.14,294.99 157.72,294.99 158.30,294.99 158.89,294.99 159.47,295.00 160.06,295.00 160.64,295.00 161.22,295.00 161.81,295.00 162.39,295.00 162.98,295.00 163.56,295.00" fill="none" stroke="#ff0000" stroke-width="1.5" stroke-linejoin="round" />
<polyline points="27.50,266.27 28.08,266.06 28.67,265.83 29.25,265.59 29.84,265.35 30.42,265.11 31.00,264.87 31.59,264.56 32.17,264.09 32.76,263.32 33.34,262.11 33.92,260.34 34.51,257.96 35.09,254.99 35.68,251.52 36.26,247.66 36.84,243.56 37.43,239.38 38.01,235.28 38.60,231.42 39.18,227.96 39.76,225.03 40.35,222.74 40.93,221.20 41.51,220.47 42.10,220.69 42.68,222.36 43.27,225.44 43.85,229.73 44.43,235.00 45.02,240.97 45.60,247.33 46.19,253.79 46.77,260.10 47.35,266.05 47.94,271.47 48.52,276.26 49.11,280.38 49.69,283.83 50.27,286.64 50.86,288.86 51.44,290.59 52.03,291.89 52.61,292.86 53.19,293.55 53.78,294.04 54.36,294.37 54.95,294.60 55.53,294.75 56.11,294.84 56.70,294.90 57.28,294.94 57.87,294.96 58.45,294.97 59.03,294.97 59.62,294.97 60.20,294.97 60.79,294.97 61.37,294.97 61.95,294.96 62.54,294.96 63.12,294.95 63.70,294.95 64.29,294.94 64.87,294.93 65.46,294.92 66.04,294.91 66.62,294.90 67.21,294.89 67.79,294.87 68.38,294.86 68.96,294.84 69.54,294.82 70.13,294.81 70.71,294.78 71.30,294.76 71.88,294.73 72.46,294.70 73.05,294.67 73.63,294.64 74.22,294.60 74.80,294.57 75.38,294.52 75.97,294.48 76.55,294.43 77.14,294.38 77.72,294.32 78.30,294.26 78.89,294.20 79.47,294.13 80.06,294.06 80.64,293.99 81.22,293.91 81.81,293.83 82.39,293.74 82.98,293.65 83.56,293.55 84.14,293.46 84.73,293.35 85.31,293.25 85.89,293.14 86.48,293.02 87.06,292.90 87.65,292.78 88.23,292.66 88.81,292.53 89.40,292.41 89.98,292.28 90.57,292.15 91.15,292.01 91.73,291.88 92.32,291.75 92.90,291.61 93.49,291.48 94.07,291.35 94.65,291.22 95.24,291.09 95.82,290.96 96.41,290.84 96.99,290.72 97.57,290.61 98.16,290.50 98.74,290.40 99.33,290.30 99.91,290.21 100.49,290.12 101.08,290.04 101.66,289.97 102.25,289.91 102.83,289.85 103.41,289.81 104.00,289.77 104.58,289.74 105.17,289.72 105.75,289.71 106.33,289.71 106.92,289.71 107.50,289.73 108.09,289.75 108.67,289.77 109.25,289.80 109.84,289.84 110.42,289.89 111.00,289.94 111.59,289.99 112.17,290.06 112.76,290.12 113.34,290.20 113.92,290.28 114.51,290.36 115.09,290.44 115.68,290.54 116.26,290.63 116.84,290.73 117.43,290.83 118.01,290.93 118.60,291.04 119.18,291.15 119.76,291.26 120.35,291.37 120.93,291.49 121.52,291.60 122.10,291.71 122.68,291.83 123.27,291.94 123.85,292.06 124.44,292.17 125.02,292.28 125.60,292.39 126.19,292.50 126.77,292.61 127.36,292.72 127.94,292.82 128.52,292.93 129.11,293.03 129.69,293.12 130.28,293.22 130.86,293.31 131.44,293.40 132.03,293.49 132.61,293.57 133.19,293.65 133.78,293.73 134.36,293.81 134.95,293.88 135.53,293.95 136.11,294.01 136.70,294.08 137.28,294.14 137.87,294.19 138.45,294.25 139.03,294.30 139.62,294.35 140.20,294.40 140.79,294.44 141.37,294.48 141.95,294.52 142.54,294.56 143.12,294.59 143.71,294.62 144.29,294.65 144.87,294.68 145.46,294.71 146.04,294.73 146.63,294.75 147.21,294.77 147.79,294.79 148.38,294.81 148.96,294.83 149.55,294.84 150.13,294.86 150.71,294.87 151.30,294.88 151.88,294.89 152.47,294.90 153.05,294.91 153.63,294.92 154.22,294.93 154.80,294.94 155.39,294.94 155.97,294.95 156.55,294.95 157.14,294.96 157.72,294.96 158.30,294.97 158.89,294.97 159.47,294.97 160.06,294.98 160.64,294.98 161.22,294.98 161.81,294.98 162.39,294.99 162.98,294.99 163.56,294.99" fill="none" stroke="#00ee00" stroke-width="1.5" stroke-linejoin="round" />
<polyline points="27.50,261.74 28.08,261.39 28.67,261.00 29.25,260.59 29.84,260.19 30.42,259.80 31.00,259.39 31.59,258.87 32.17,258.09 32.76,256.80 33.34,254.78 33.92,251.82 34.51,247.85 35.09,242.90 35.68,237.09 36.26,230.65 36.84,223.80 37.43,216.81 38.01,209.97 38.60,203.53 39.18,197.74 39.76,192.84 40.35,189.03 40.93,186.46 41.51,185.23 42.10,185.55 42.68,188.01 43.27,192.54 43.85,198.86 44.43,206.62 45.02,215.41 45.60,224.78 46.19,234.30 46.77,243.60 47.35,252.36 47.94,260.34 48.52,267.40 49.11,273.47 49.69,278.55 50.27,282.68 50.86,285.96 51.44,288.50 52.03,290.43 52.61,291.84 53.19,292.86 53.78,293.58 54.36,294.08 54.95,294.41 55.53,294.63 56.11,294.77 56.70,294.85 57.28,294.91 57.87,294.94 58.45,294.95 59.03,294.96 59.62,294.96 60.20,294.96 60.79,294.96 61.37,294.95 61.95,294.95 62.54,294.94 63.12,294.93 63.70,294.92 64.29,294.91 64.87,294.90 65.46,294.89 66.04,294.88 66.62,294.86 67.21,294.84 67.79,294.82 68.38,294.80 68.96,294.78 69.54,294.75 70.13,294.73 70.71,294.70 71.30,294.66 71.88,294.63 72.46,294.59 73.05,294.54 73.63,294.50 74.22,294.45 74.80,294.39 75.38,294.33 75.97,294.27 76.55,294.20 77.14,294.13 77.72,294.05 78.30,293.97 78.89,293.88 79.47,293.79 80.06,293.69 80.64,293.58 81.22,293.47 81.81,293.36 82.39,293.24 82.98,293.11 83.56,292.98 84.14,292.84 84.73,292.69 85.31,292.54 85.89,292.39 86.48,292.23 87.06,292.07 87.65,291.90 88.23,291.73 88.81,291.55 89.40,291.37 89.98,291.19 90.57,291.00 91.15,290.82 91.73,290.63 92.32,290.44 92.90,290.26 93.49,290.07 94.07,289.89 94.65,289.70 95.24,289.52 95.82,289.35 96.41,289.18 96.99,289.01 97.57,288.85 98.16,288.70 98.74,288.55 99.33,288.42 99.91,288.29 100.49,288.17 101.08,288.06 101.66,287.96 102.25,287.87 102.83,287.79 103.41,287.73 104.00,287.68 104.58,287.64 105.17,287.61 105.75,287.59 106.33,287.59 106.92,287.60 107.50,287.62 108.09,287.64 108.67,287.68 109.25,287.72 109.84,287.78 110.42,287.84 111.00,287.91 111.59,287.99 112.17,288.08 112.76,288.17 113.34,288.28 113.92,288.39 114.51,288.50 115.09,288.62 115.68,288.75 116.26,288.88 116.84,289.02 117.43,289.16 118.01,289.31 118.60,289.46 119.18,289.61 119.76,289.76 120.35,289.92 120.93,290.08 121.52,290.24 122.10,290.40 122.68,290.56 123.27,290.72 123.85,290.88 124.44,291.04 125.02,291.20 125.60,291.35 126.19,291.51 126.77,291.66 127.36,291.81 127.94,291.95 128.52,292.10 129.11,292.24 129.69,292.37 130.28,292.51 130.86,292.64 131.44,292.76 132.03,292.88 132.61,293.00 133.19,293.12 133.78,293.22 134.36,293.33 134.95,293.43 135.53,293.53 136.11,293.62 136.70,293.71 137.28,293.79 137.87,293.87 138.45,293.95 139.03,294.02 139.62,294.09 140.20,294.15 140.79,294.22 141.37,294.27 141.95,294.33 142.54,294.38 143.12,294.43 143.71,294.47 144.29,294.51 144.87,294.55 145.46,294.59 146.04,294.62 146.63,294.65 147.21,294.68 147.79,294.71 148.38,294.74 148.96,294.76 149.55,294.78 150.13,294.80 150.71,294.82 151.30,294.84 151.88,294.85 152.47,294.87 153.05,294.88 153.63,294.89 154.22,294.90 154.80,294.91 155.39,294.92 155.97,294.93 156.55,294.94 157.14,294.94 157.72,294.95 158.30,294.95 158.89,294.96 159.47,294.96 160.06,294.97 160.64,294.97 161.22,294.97 161.81,294.98 162.39,294.98 162.98,294.98 163.56,294.98" fill="none" stroke="#0000ff" stroke-width="1.5" stroke-linejoin="round" />
<polyline points="27.50,259.97 28.08,259.69 28.67,259.39 29.25,259.07 29.84,258.75 30.42,258.44 31.00,258.11 31.59,257.70 32.17,257.08 32.76,256.06 33.34,254.45 33.92,252.11 34.51,248.96 35.09,245.04 35.68,240.44 36.26,235.32 36.84,229.89 37.43,224.36 38.01,218.93 38.60,213.82 39.18,209.24 39.76,205.36 40.35,202.33 40.93,200.29 41.51,199.32 42.10,199.61 42.68,201.75 43.27,205.70 43.85,211.21 44.43,217.97 45.02,225.63 45.60,233.80 46.19,242.10 46.77,250.20 47.35,257.83 47.94,264.79 48.52,270.95 49.11,276.23 49.69,280.66 50.27,284.26 50.86,287.12 51.44,289.34 52.03,291.01 52.61,292.24 53.19,293.13 53.78,293.76 54.36,294.19 54.95,294.48 55.53,294.67 56.11,294.79 56.70,294.86 57.28,294.90 57.87,294.93 58.45,294.94 59.03,294.94 59.62,294.94 60.20,294.94 60.79,294.93 61.37,294.92 61.95,294.91 62.54,294.90 63.12,294.89 63.70,294.87 64.29,294.86 64.87,294.84 65.46,294.81 66.04,294.79 66.62,294.77 67.21,294.74 67.79,294.70 68.38,294.67 68.96,294.63 69.54,294.59 70.13,294.54 70.71,294.49 71.30,294.43 71.88,294.37 72.46,294.30 73.05,294.23 73.63,294.15 74.22,294.07 74.80,293.97 75.38,293.87 75.97,293.77 76.55,293.65 77.14,293.53 77.72,293.40 78.30,293.26 78.89,293.11 79.47,292.96 80.06,292.79 80.64,292.61 81.22,292.43 81.81,292.23 82.39,292.03 82.98,291.81 83.56,291.59 84.14,291.35 84.73,291.11 85.31,290.86 85.89,290.60 86.48,290.33 87.06,290.05 87.65,289.77 88.23,289.47 88.81,289.18 89.40,288.88 89.98,288.57 90.57,288.26 91.15,287.94 91.73,287.63 92.32,287.31 92.90,287.00 93.49,286.68 94.07,286.37 94.65,286.07 95.24,285.76 95.82,285.47 96.41,285.18 96.99,284.90 97.57,284.63 98.16,284.37 98.74,284.13 99.33,283.89 99.91,283.68 100.49,283.47 101.08,283.29 101.66,283.12 102.25,282.97 102.83,282.84 103.41,282.73 104.00,282.65 104.58,282.58 105.17,282.53 105.75,282.51 106.33,282.50 106.92,282.51 107.50,282.54 108.09,282.59 108.67,282.65 109.25,282.73 109.84,282.82 110.42,282.92 111.00,283.04 111.59,283.18 112.17,283.32 112.76,283.48 113.34,283.66 113.92,283.84 114.51,284.04 115.09,284.24 115.68,284.46 116.26,284.68 116.84,284.91 117.43,285.15 118.01,285.40 118.60,285.65 119.18,285.91 119.76,286.17 120.35,286.43 120.93,286.70 121.52,286.97 122.10,287.24 122.68,287.51 123.27,287.78 123.85,288.05 124.44,288.32 125.02,288.58 125.60,288.85 126.19,289.11 126.77,289.36 127.36,289.61 127.94,289.86 128.52,290.10 129.11,290.34 129.69,290.57 130.28,290.80 130.86,291.01 131.44,291.23 132.03,291.43 132.61,291.63 133.19,291.82 133.78,292.01 134.36,292.18 134.95,292.35 135.53,292.52 136.11,292.67 136.70,292.82 137.28,292.96 137.87,293.10 138.45,293.23 139.03,293.35 139.62,293.46 140.20,293.57 140.79,293.68 141.37,293.77 141.95,293.87 142.54,293.95 143.12,294.03 143.71,294.11 144.29,294.18 144.87,294.24 145.46,294.31 146.04,294.36 146.63,294.42 147.21,294.47 147.79,294.51 148.38,294.56 148.96,294.60 149.55,294.63 150.13,294.67 150.71,294.70 151.30,294.72 151.88,294.75 152.47,294.77 153.05,294.80 153.63,294.82 154.22,294.83 154.80,294.85 155.39,294.87 155.97,294.88 156.55,294.89 157.14,294.90 157.72,294.91 158.30,294.92 158.89,294.93 159.47,294.94 160.06,294.95 160.64,294.95 161.22,294.96 161.81,294.96 162.39,294.97 162.98,294.97 163.56,294.97" fill="none" stroke="#ff00ff" stroke-width="1.5" stroke-linejoin="round" />
<polyline points="27.50,266.27 28.08,266.05 28.67,265.81 29.25,265.55 29.84,265.30 30.42,265.05 31.00,264.79 31.59,264.46 32.17,263.97 32.76,263.16 33.34,261.88 33.92,260.01 34.51,257.50 35.09,254.37 35.68,250.71 36.26,246.64 36.84,242.31 37.43,237.90 38.01,233.58 38.60,229.51 39.18,225.85 39.76,222.76 40.35,220.35 40.93,218.73 41.51,217.95 42.10,218.18 42.68,219.91 43.27,223.09 43.85,227.52 44.43,232.97 45.02,239.14 45.60,245.72 46.19,252.40 46.77,258.92 47.35,265.07 47.94,270.67 48.52,275.63 49.11,279.89 49.69,283.45 50.27,286.35 50.86,288.65 51.44,290.44 52.03,291.78 52.61,292.78 53.19,293.49 53.78,294.00 54.36,294.34 54.95,294.57 55.53,294.72 56.11,294.82 56.70,294.88 57.28,294.91 57.87,294.93 58.45,294.94 59.03,294.94 59.62,294.94 60.20,294.93 60.79,294.92 61.37,294.91 61.95,294.90 62.54,294.88 63.12,294.87 63.70,294.85 64.29,294.83 64.87,294.81 65.46,294.78 66.04,294.76 66.62,294.73 67.21,294.69 67.79,294.65 68.38,294.61 68.96,294.57 69.54,294.52 70.13,294.46 70.71,294.40 71.30,294.34 71.88,294.26 72.46,294.18 73.05,294.10 73.63,294.01 74.22,293.91 74.80,293.80 75.38,293.68 75.97,293.56 76.55,293.43 77.14,293.28 77.72,293.13 78.30,292.97 78.89,292.79 79.47,292.61 80.06,292.41 80.64,292.21 81.22,291.99 81.81,291.76 82.39,291.52 82.98,291.27 83.56,291.01 84.14,290.73 84.73,290.45 85.31,290.16 85.89,289.85 86.48,289.54 87.06,289.21 87.65,288.88 88.23,288.54 88.81,288.19 89.40,287.84 89.98,287.48 90.57,287.12 91.15,286.75 91.73,286.38 92.32,286.01 92.90,285.64 93.49,285.28 94.07,284.91 94.65,284.55 95.24,284.20 95.82,283.85 96.41,283.52 96.99,283.19 97.57,282.87 98.16,282.57 98.74,282.28 99.33,282.01 99.91,281.76 100.49,281.52 101.08,281.31 101.66,281.11 102.25,280.94 102.83,280.79 103.41,280.66 104.00,280.55 104.58,280.47 105.17,280.42 105.75,280.39 106.33,280.39 106.92,280.40 107.50,280.43 108.09,280.49 108.67,280.56 109.25,280.65 109.84,280.75 110.42,280.88 111.00,281.02 111.59,281.17 112.17,281.35 112.76,281.53 113.34,281.74 113.92,281.95 114.51,282.18 115.09,282.42 115.68,282.67 116.26,282.93 116.84,283.20 117.43,283.48 118.01,283.77 118.60,284.07 119.18,284.37 119.76,284.67 120.35,284.98 120.93,285.29 121.52,285.61 122.10,285.92 122.68,286.24 123.27,286.56 123.85,286.87 124.44,287.19 125.02,287.50 125.60,287.80 126.19,288.11 126.77,288.41 127.36,288.70 127.94,288.99 128.52,289.27 129.11,289.55 129.69,289.82 130.28,290.08 130.86,290.34 131.44,290.59 132.03,290.83 132.61,291.06 133.19,291.28 133.78,291.50 134.36,291.71 134.95,291.90 135.53,292.10 136.11,292.28 136.70,292.45 137.28,292.62 137.87,292.78 138.45,292.93 139.03,293.07 139.62,293.20 140.20,293.33 140.79,293.45 141.37,293.57 141.95,293.67 142.54,293.77 143.12,293.87 143.71,293.96 144.29,294.04 144.87,294.12 145.46,294.19 146.04,294.26 146.63,294.32 147.21,294.38 147.79,294.43 148.38,294.48 148.96,294.53 149.55,294.57 150.13,294.61 150.71,294.64 151.30,294.68 151.88,294.71 152.47,294.74 153.05,294.76 153.63,294.78 154.22,294.81 154.80,294.83 155.39,294.84 155.97,294.86 156.55,294.87 157.14,294.89 157.72,294.90 158.30,294.91 158.89,294.92 159.47,294.93 160.06,294.94 160.64,294.94 161.22,294.95 161.81,294.96 162.39,294.96 162.98,294.97 163.56,294.97" fill="none" stroke="#ffff00" stroke-width="1.5" stroke-linejoin="round" />
<rect x="27.00" y="169.00" width="175.50" height="126.80" fill="none" stroke="#111" stroke-width="1.2"/>
<line x1="24.50" y1="295.00" x2="27.00" y2="295.00" stroke="#111" stroke-width="1" />
<text x="23.50" y="297.80" font-size="7.6" text-anchor="end" font-weight="bold" fill="#111">0</text>
<line x1="24.50" y1="269.80" x2="27.00" y2="269.80" stroke="#111" stroke-width="1" />
<text x="23.50" y="272.60" font-size="7.6" text-anchor="end" font-weight="bold" fill="#111">50</text>
<line x1="24.50" y1="244.60" x2="27.00" y2="244.60" stroke="#111" stroke-width="1" />
<text x="23.50" y="247.40" font-size="7.6" text-anchor="end" font-weight="bold" fill="#111">100</text>
<line x1="24.50" y1="219.40" x2="27.00" y2="219.40" stroke="#111" stroke-width="1" />
<text x="23.50" y="222.20" font-size="7.6" text-anchor="end" font-weight="bold" fill="#111">150</text>
<line x1="24.50" y1="194.20" x2="27.00" y2="194.20" stroke="#111" stroke-width="1" />
<text x="23.50" y="197.00" font-size="7.6" text-anchor="end" font-weight="bold" fill="#111">200</text>
<line x1="24.50" y1="169.00" x2="27.00" y2="169.00" stroke="#111" stroke-width="1" />
<text x="23.50" y="171.80" font-size="7.6" text-anchor="end" font-weight="bold" fill="#111">250</text>
<line x1="27.00" y1="282.40" x2="29.00" y2="282.40" stroke="#111" stroke-width="0.8" />
<line x1="27.00" y1="257.20" x2="29.00" y2="257.20" stroke="#111" stroke-width="0.8" />
<line x1="27.00" y1="232.00" x2="29.00" y2="232.00" stroke="#111" stroke-width="0.8" />
<line x1="27.00" y1="206.80" x2="29.00" y2="206.80" stroke="#111" stroke-width="0.8" />
<line x1="27.00" y1="181.60" x2="29.00" y2="181.60" stroke="#111" stroke-width="0.8" />
<line x1="27.50" y1="295.80" x2="27.50" y2="298.30" stroke="#111" stroke-width="1" />
<line x1="27.50" y1="295.80" x2="27.50" y2="293.80" stroke="#111" stroke-width="0.8" />
<text x="27.50" y="305.80" font-size="7.4" text-anchor="middle" font-weight="bold" fill="#111">350</text>
<line x1="46.97" y1="295.80" x2="46.97" y2="298.30" stroke="#111" stroke-width="1" />
<line x1="46.97" y1="295.80" x2="46.97" y2="293.80" stroke="#111" stroke-width="0.8" />
<text x="46.97" y="305.80" font-size="7.4" text-anchor="middle" font-weight="bold" fill="#111">400</text>
<line x1="66.43" y1="295.80" x2="66.43" y2="298.30" stroke="#111" stroke-width="1" />
<line x1="66.43" y1="295.80" x2="66.43" y2="293.80" stroke="#111" stroke-width="0.8" />
<text x="66.43" y="305.80" font-size="7.4" text-anchor="middle" font-weight="bold" fill="#111">450</text>
<line x1="85.89" y1="295.80" x2="85.89" y2="298.30" stroke="#111" stroke-width="1" />
<line x1="85.89" y1="295.80" x2="85.89" y2="293.80" stroke="#111" stroke-width="0.8" />
<text x="85.89" y="305.80" font-size="7.4" text-anchor="middle" font-weight="bold" fill="#111">500</text>
<line x1="105.36" y1="295.80" x2="105.36" y2="298.30" stroke="#111" stroke-width="1" />
<line x1="105.36" y1="295.80" x2="105.36" y2="293.80" stroke="#111" stroke-width="0.8" />
<text x="105.36" y="305.80" font-size="7.4" text-anchor="middle" font-weight="bold" fill="#111">550</text>
<line x1="124.82" y1="295.80" x2="124.82" y2="298.30" stroke="#111" stroke-width="1" />
<line x1="124.82" y1="295.80" x2="124.82" y2="293.80" stroke="#111" stroke-width="0.8" />
<text x="124.82" y="305.80" font-size="7.4" text-anchor="middle" font-weight="bold" fill="#111">600</text>
<line x1="144.29" y1="295.80" x2="144.29" y2="298.30" stroke="#111" stroke-width="1" />
<line x1="144.29" y1="295.80" x2="144.29" y2="293.80" stroke="#111" stroke-width="0.8" />
<text x="144.29" y="305.80" font-size="7.4" text-anchor="middle" font-weight="bold" fill="#111">650</text>
<line x1="163.75" y1="295.80" x2="163.75" y2="298.30" stroke="#111" stroke-width="1" />
<line x1="163.75" y1="295.80" x2="163.75" y2="293.80" stroke="#111" stroke-width="0.8" />
<text x="163.75" y="305.80" font-size="7.4" text-anchor="middle" font-weight="bold" fill="#111">700</text>
<line x1="183.22" y1="295.80" x2="183.22" y2="298.30" stroke="#111" stroke-width="1" />
<line x1="183.22" y1="295.80" x2="183.22" y2="293.80" stroke="#111" stroke-width="0.8" />
<text x="183.22" y="305.80" font-size="7.4" text-anchor="middle" font-weight="bold" fill="#111">750</text>
<line x1="202.69" y1="295.80" x2="202.69" y2="298.30" stroke="#111" stroke-width="1" />
<line x1="202.69" y1="295.80" x2="202.69" y2="293.80" stroke="#111" stroke-width="0.8" />
<text x="202.69" y="305.80" font-size="7.4" text-anchor="middle" font-weight="bold" fill="#111">800</text>
<line x1="37.23" y1="295.80" x2="37.23" y2="294.30" stroke="#111" stroke-width="0.8" />
<line x1="56.70" y1="295.80" x2="56.70" y2="294.30" stroke="#111" stroke-width="0.8" />
<line x1="76.16" y1="295.80" x2="76.16" y2="294.30" stroke="#111" stroke-width="0.8" />
<line x1="95.63" y1="295.80" x2="95.63" y2="294.30" stroke="#111" stroke-width="0.8" />
<line x1="115.09" y1="295.80" x2="115.09" y2="294.30" stroke="#111" stroke-width="0.8" />
<line x1="134.56" y1="295.80" x2="134.56" y2="294.30" stroke="#111" stroke-width="0.8" />
<line x1="154.02" y1="295.80" x2="154.02" y2="294.30" stroke="#111" stroke-width="0.8" />
<line x1="173.49" y1="295.80" x2="173.49" y2="294.30" stroke="#111" stroke-width="0.8" />
<line x1="192.95" y1="295.80" x2="192.95" y2="294.30" stroke="#111" stroke-width="0.8" />
<text x="115.40" y="317.60" font-size="7.8" text-anchor="middle" font-weight="bold" fill="#111" textLength="58.50" lengthAdjust="spacingAndGlyphs">Wavelength (nm)</text>
<text x="8.00" y="238.90" font-size="8" text-anchor="middle" font-weight="bold" fill="#111" textLength="61.50" lengthAdjust="spacingAndGlyphs" transform="rotate(-90 8.00 238.90)">Rel. Intensity (a.u)</text>
<line x1="50.20" y1="218.30" x2="65.40" y2="218.30" stroke="#000000" stroke-width="1.5" />
<text x="66.50" y="220.70" font-size="7.6" fill="#3a3a3a" font-family="Liberation Serif, Times New Roman, serif" textLength="8.60" lengthAdjust="spacingAndGlyphs">(a)</text>
<line x1="50.20" y1="226.16" x2="65.40" y2="226.16" stroke="#ff0000" stroke-width="1.5" />
<text x="66.50" y="228.56" font-size="7.6" fill="#3a3a3a" font-family="Liberation Serif, Times New Roman, serif" textLength="8.60" lengthAdjust="spacingAndGlyphs">(b)</text>
<line x1="50.20" y1="234.02" x2="65.40" y2="234.02" stroke="#00ee00" stroke-width="1.5" />
<text x="66.50" y="236.42" font-size="7.6" fill="#3a3a3a" font-family="Liberation Serif, Times New Roman, serif" textLength="8.60" lengthAdjust="spacingAndGlyphs">(c)</text>
<line x1="50.20" y1="241.88" x2="65.40" y2="241.88" stroke="#0000ff" stroke-width="1.5" />
<text x="66.50" y="244.28" font-size="7.6" fill="#3a3a3a" font-family="Liberation Serif, Times New Roman, serif" textLength="8.60" lengthAdjust="spacingAndGlyphs">(d)</text>
<line x1="50.20" y1="249.74" x2="65.40" y2="249.74" stroke="#ff00ff" stroke-width="1.5" />
<text x="66.50" y="252.14" font-size="7.6" fill="#3a3a3a" font-family="Liberation Serif, Times New Roman, serif" textLength="8.60" lengthAdjust="spacingAndGlyphs">(e)</text>
<line x1="50.20" y1="257.60" x2="65.40" y2="257.60" stroke="#ffff00" stroke-width="1.5" />
<text x="66.50" y="260.00" font-size="7.6" fill="#3a3a3a" font-family="Liberation Serif, Times New Roman, serif" textLength="8.60" lengthAdjust="spacingAndGlyphs">(f)</text>
<rect x="56.10" y="172.00" width="18.00" height="18.10" fill="#b4b4b4"/>
<text x="65.10" y="185.70" font-size="20" text-anchor="middle" fill="#000" font-family="Liberation Serif, Times New Roman, serif">e</text>
<clipPath id="ic"><rect x="94.4" y="176.4" width="108.8" height="80"/></clipPath>
<g clip-path="url(#ic)">
<polyline points="93.77,241.87 94.84,241.83 95.90,241.79 96.97,241.74 98.04,241.69 99.11,241.64 100.17,241.58 101.24,241.52 102.31,241.45 103.38,241.37 104.44,241.27 105.51,241.15 106.58,241.02 107.65,240.85 108.71,240.67 109.78,240.45 110.85,240.20 111.92,239.91 112.98,239.59 114.05,239.23 115.12,238.83 116.19,238.39 117.25,237.91 118.32,237.39 119.39,236.84 120.46,236.25 121.52,235.63 122.59,234.97 123.66,234.29 124.73,233.58 125.79,232.85 126.86,232.10 127.93,231.33 129.00,230.55 130.06,229.76 131.13,228.96 132.20,228.16 133.27,227.36 134.33,226.56 135.40,225.77 136.47,224.99 137.54,224.23 138.60,223.48 139.67,222.76 140.74,222.05 141.81,221.38 142.87,220.73 143.94,220.12 145.01,219.54 146.08,219.01 147.14,218.51 148.21,218.05 149.28,217.64 150.35,217.28 151.41,216.96 152.48,216.70 153.55,216.48 154.62,216.32 155.68,216.21 156.75,216.16 157.82,216.16 158.89,216.26 159.95,216.47 161.02,216.78 162.09,217.20 163.16,217.71 164.22,218.32 165.29,219.03 166.36,219.82 167.43,220.70 168.49,221.65 169.56,222.68 170.63,223.77 171.70,224.92 172.76,226.12 173.83,227.37 174.90,228.65 175.97,229.96 177.03,231.30 178.10,232.66 179.17,234.02 180.24,235.39 181.30,236.75 182.37,238.11 183.44,239.45 184.51,240.77 185.57,242.07 186.64,243.34 187.71,244.58 188.78,245.78 189.84,246.94 190.91,248.06 191.98,249.14 193.05,250.17 194.11,251.15 195.18,252.09 196.25,252.98 197.32,253.82 198.38,254.61 199.45,255.36 200.52,256.06 201.59,256.71 202.65,257.32" fill="none" stroke="#000000" stroke-width="1.4" stroke-linejoin="round" />
<polyline points="93.77,239.95 94.84,239.90 95.90,239.85 96.97,239.80 98.04,239.75 99.11,239.70 100.17,239.64 101.24,239.57 102.31,239.49 103.38,239.40 104.44,239.29 105.51,239.17 106.58,239.02 107.65,238.85 108.71,238.64 109.78,238.41 110.85,238.13 111.92,237.82 112.98,237.48 114.05,237.08 115.12,236.65 116.19,236.18 117.25,235.66 118.32,235.10 119.39,234.50 120.46,233.86 121.52,233.19 122.59,232.48 123.66,231.75 124.73,230.98 125.79,230.19 126.86,229.38 127.93,228.54 129.00,227.70 130.06,226.84 131.13,225.98 132.20,225.11 133.27,224.25 134.33,223.39 135.40,222.53 136.47,221.69 137.54,220.86 138.60,220.06 139.67,219.27 140.74,218.51 141.81,217.78 142.87,217.08 143.94,216.42 145.01,215.80 146.08,215.21 147.14,214.68 148.21,214.18 149.28,213.74 150.35,213.35 151.41,213.01 152.48,212.72 153.55,212.49 154.62,212.31 155.68,212.19 156.75,212.13 157.82,212.14 158.89,212.25 159.95,212.47 161.02,212.81 162.09,213.26 163.16,213.82 164.22,214.48 165.29,215.25 166.36,216.11 167.43,217.06 168.49,218.10 169.56,219.21 170.63,220.39 171.70,221.64 172.76,222.95 173.83,224.30 174.90,225.69 175.97,227.12 177.03,228.57 178.10,230.04 179.17,231.52 180.24,233.00 181.30,234.48 182.37,235.96 183.44,237.41 184.51,238.85 185.57,240.25 186.64,241.63 187.71,242.97 188.78,244.28 189.84,245.54 190.91,246.75 191.98,247.92 193.05,249.04 194.11,250.11 195.18,251.13 196.25,252.09 197.32,253.00 198.38,253.86 199.45,254.67 200.52,255.43 201.59,256.14 202.65,256.80" fill="none" stroke="#ff0000" stroke-width="1.4" stroke-linejoin="round" />
<polyline points="93.77,242.57 94.84,242.52 95.90,242.46 96.97,242.41 98.04,242.35 99.11,242.28 100.17,242.22 101.24,242.14 102.31,242.05 103.38,241.95 104.44,241.82 105.51,241.68 106.58,241.51 107.65,241.31 108.71,241.08 109.78,240.81 110.85,240.50 111.92,240.14 112.98,239.74 114.05,239.29 115.12,238.80 116.19,238.26 117.25,237.66 118.32,237.02 119.39,236.34 120.46,235.61 121.52,234.84 122.59,234.03 123.66,233.18 124.73,232.31 125.79,231.40 126.86,230.47 127.93,229.52 129.00,228.55 130.06,227.57 131.13,226.58 132.20,225.59 133.27,224.60 134.33,223.62 135.40,222.64 136.47,221.67 137.54,220.73 138.60,219.80 139.67,218.90 140.74,218.04 141.81,217.20 142.87,216.40 143.94,215.64 145.01,214.93 146.08,214.26 147.14,213.64 148.21,213.08 149.28,212.57 150.35,212.12 151.41,211.73 152.48,211.40 153.55,211.14 154.62,210.94 155.68,210.80 156.75,210.73 157.82,210.74 158.89,210.85 159.95,211.08 161.02,211.43 162.09,211.89 163.16,212.47 164.22,213.15 165.29,213.93 166.36,214.82 167.43,215.80 168.49,216.86 169.56,218.00 170.63,219.22 171.70,220.50 172.76,221.84 173.83,223.23 174.90,224.66 175.97,226.13 177.03,227.62 178.10,229.13 179.17,230.65 180.24,232.17 181.30,233.69 182.37,235.21 183.44,236.70 184.51,238.18 185.57,239.62 186.64,241.04 187.71,242.42 188.78,243.75 189.84,245.05 190.91,246.30 191.98,247.50 193.05,248.65 194.11,249.75 195.18,250.79 196.25,251.78 197.32,252.72 198.38,253.60 199.45,254.44 200.52,255.21 201.59,255.94 202.65,256.62" fill="none" stroke="#00ee00" stroke-width="1.4" stroke-linejoin="round" />
<polyline points="93.77,238.55 94.84,238.46 95.90,238.37 96.97,238.27 98.04,238.18 99.11,238.07 100.17,237.96 101.24,237.83 102.31,237.69 103.38,237.52 104.44,237.32 105.51,237.08 106.58,236.81 107.65,236.48 108.71,236.10 109.78,235.66 110.85,235.15 111.92,234.57 112.98,233.91 114.05,233.18 115.12,232.37 116.19,231.48 117.25,230.51 118.32,229.46 119.39,228.34 120.46,227.14 121.52,225.88 122.59,224.56 123.66,223.17 124.73,221.74 125.79,220.25 126.86,218.73 127.93,217.17 129.00,215.59 130.06,213.99 131.13,212.37 132.20,210.74 133.27,209.12 134.33,207.51 135.40,205.91 136.47,204.33 137.54,202.78 138.60,201.26 139.67,199.79 140.74,198.37 141.81,197.00 142.87,195.69 143.94,194.45 145.01,193.28 146.08,192.19 147.14,191.18 148.21,190.26 149.28,189.43 150.35,188.69 151.41,188.05 152.48,187.51 153.55,187.08 154.62,186.75 155.68,186.53 156.75,186.42 157.82,186.42 158.89,186.58 159.95,186.92 161.02,187.43 162.09,188.10 163.16,188.94 164.22,189.94 165.29,191.09 166.36,192.38 167.43,193.81 168.49,195.37 169.56,197.04 170.63,198.82 171.70,200.69 172.76,202.65 173.83,204.68 174.90,206.77 175.97,208.91 177.03,211.09 178.10,213.30 179.17,215.52 180.24,217.75 181.30,219.98 182.37,222.19 183.44,224.37 184.51,226.53 185.57,228.64 186.64,230.71 187.71,232.73 188.78,234.68 189.84,236.58 190.91,238.40 191.98,240.15 193.05,241.84 194.11,243.44 195.18,244.97 196.25,246.42 197.32,247.79 198.38,249.08 199.45,250.30 200.52,251.44 201.59,252.50 202.65,253.49" fill="none" stroke="#0000ff" stroke-width="1.4" stroke-linejoin="round" />
<polyline points="93.77,238.55 94.84,238.48 95.90,238.40 96.97,238.33 98.04,238.25 99.11,238.17 100.17,238.08 101.24,237.98 102.31,237.86 103.38,237.72 104.44,237.56 105.51,237.37 106.58,237.15 107.65,236.89 108.71,236.58 109.78,236.23 110.85,235.82 111.92,235.36 112.98,234.83 114.05,234.24 115.12,233.59 116.19,232.88 117.25,232.10 118.32,231.26 119.39,230.36 120.46,229.40 121.52,228.39 122.59,227.33 123.66,226.22 124.73,225.07 125.79,223.88 126.86,222.65 127.93,221.41 129.00,220.14 130.06,218.85 131.13,217.55 132.20,216.25 133.27,214.95 134.33,213.65 135.40,212.37 136.47,211.10 137.54,209.86 138.60,208.65 139.67,207.47 140.74,206.32 141.81,205.23 142.87,204.18 143.94,203.18 145.01,202.24 146.08,201.37 147.14,200.56 148.21,199.82 149.28,199.15 150.35,198.56 151.41,198.05 152.48,197.62 153.55,197.27 154.62,197.01 155.68,196.83 156.75,196.74 157.82,196.74 158.89,196.88 159.95,197.17 161.02,197.61 162.09,198.20 163.16,198.93 164.22,199.79 165.29,200.79 166.36,201.91 167.43,203.14 168.49,204.49 169.56,205.94 170.63,207.48 171.70,209.10 172.76,210.80 173.83,212.55 174.90,214.36 175.97,216.22 177.03,218.11 178.10,220.02 179.17,221.94 180.24,223.87 181.30,225.80 182.37,227.71 183.44,229.61 184.51,231.47 185.57,233.30 186.64,235.09 187.71,236.84 188.78,238.53 189.84,240.17 190.91,241.75 191.98,243.27 193.05,244.73 194.11,246.12 195.18,247.44 196.25,248.69 197.32,249.88 198.38,251.00 199.45,252.05 200.52,253.04 201.59,253.96 202.65,254.82" fill="none" stroke="#ff00ff" stroke-width="1.4" stroke-linejoin="round" />
<polyline points="93.77,242.57 94.84,242.52 95.90,242.46 96.97,242.40 98.04,242.34 99.11,242.27 100.17,242.20 101.24,242.12 102.31,242.03 103.38,241.92 104.44,241.79 105.51,241.65 106.58,241.47 107.65,241.26 108.71,241.02 109.78,240.74 110.85,240.42 111.92,240.05 112.98,239.63 114.05,239.17 115.12,238.65 116.19,238.09 117.25,237.47 118.32,236.81 119.39,236.10 120.46,235.34 121.52,234.54 122.59,233.70 123.66,232.82 124.73,231.91 125.79,230.97 126.86,230.00 127.93,229.02 129.00,228.01 130.06,227.00 131.13,225.97 132.20,224.94 133.27,223.91 134.33,222.89 135.40,221.87 136.47,220.87 137.54,219.89 138.60,218.93 139.67,217.99 140.74,217.09 141.81,216.22 142.87,215.39 143.94,214.61 145.01,213.86 146.08,213.17 147.14,212.53 148.21,211.95 149.28,211.42 150.35,210.95 151.41,210.55 152.48,210.21 153.55,209.93 154.62,209.72 155.68,209.58 156.75,209.51 157.82,209.51 158.89,209.63 159.95,209.86 161.02,210.22 162.09,210.69 163.16,211.28 164.22,211.98 165.29,212.78 166.36,213.69 167.43,214.69 168.49,215.78 169.56,216.95 170.63,218.19 171.70,219.50 172.76,220.87 173.83,222.30 174.90,223.76 175.97,225.26 177.03,226.78 178.10,228.33 179.17,229.89 180.24,231.45 181.30,233.00 182.37,234.55 183.44,236.08 184.51,237.59 185.57,239.07 186.64,240.52 187.71,241.93 188.78,243.30 189.84,244.62 190.91,245.90 191.98,247.13 193.05,248.30 194.11,249.43 195.18,250.50 196.25,251.51 197.32,252.47 198.38,253.38 199.45,254.23 200.52,255.02 201.59,255.77 202.65,256.47" fill="none" stroke="#ffff00" stroke-width="1.4" stroke-linejoin="round" />
</g>
<rect x="94.40" y="176.40" width="108.80" height="80.00" fill="none" stroke="#111" stroke-width="1"/>
<line x1="157.30" y1="186.70" x2="157.30" y2="216.00" stroke="#777" stroke-width="0.6" />
<line x1="92.40" y1="249.40" x2="94.40" y2="249.40" stroke="#111" stroke-width="0.8" />
<text x="91.20" y="251.20" font-size="4.8" text-anchor="end" font-weight="bold" fill="#111" textLength="4.00" lengthAdjust="spacingAndGlyphs">40</text>
<line x1="92.40" y1="235.40" x2="94.40" y2="235.40" stroke="#111" stroke-width="0.8" />
<text x="91.20" y="237.20" font-size="4.8" text-anchor="end" font-weight="bold" fill="#111" textLength="4.00" lengthAdjust="spacingAndGlyphs">80</text>
<line x1="92.40" y1="221.40" x2="94.40" y2="221.40" stroke="#111" stroke-width="0.8" />
<text x="91.20" y="223.20" font-size="4.8" text-anchor="end" font-weight="bold" fill="#111" textLength="5.90" lengthAdjust="spacingAndGlyphs">120</text>
<line x1="92.40" y1="207.40" x2="94.40" y2="207.40" stroke="#111" stroke-width="0.8" />
<text x="91.20" y="209.20" font-size="4.8" text-anchor="end" font-weight="bold" fill="#111" textLength="5.90" lengthAdjust="spacingAndGlyphs">160</text>
<line x1="92.40" y1="193.40" x2="94.40" y2="193.40" stroke="#111" stroke-width="0.8" />
<text x="91.20" y="195.20" font-size="4.8" text-anchor="end" font-weight="bold" fill="#111" textLength="5.90" lengthAdjust="spacingAndGlyphs">200</text>
<line x1="92.40" y1="179.40" x2="94.40" y2="179.40" stroke="#111" stroke-width="0.8" />
<text x="91.20" y="181.20" font-size="4.8" text-anchor="end" font-weight="bold" fill="#111" textLength="5.90" lengthAdjust="spacingAndGlyphs">240</text>
<line x1="100.60" y1="256.40" x2="100.60" y2="258.40" stroke="#111" stroke-width="0.8" />
<text x="100.60" y="263.60" font-size="4.8" text-anchor="middle" font-weight="bold" fill="#111" textLength="6.40" lengthAdjust="spacingAndGlyphs">360</text>
<line x1="121.95" y1="256.40" x2="121.95" y2="258.40" stroke="#111" stroke-width="0.8" />
<text x="121.95" y="263.60" font-size="4.8" text-anchor="middle" font-weight="bold" fill="#111" textLength="6.40" lengthAdjust="spacingAndGlyphs">370</text>
<line x1="143.30" y1="256.40" x2="143.30" y2="258.40" stroke="#111" stroke-width="0.8" />
<text x="143.30" y="263.60" font-size="4.8" text-anchor="middle" font-weight="bold" fill="#111" textLength="6.40" lengthAdjust="spacingAndGlyphs">380</text>
<line x1="164.65" y1="256.40" x2="164.65" y2="258.40" stroke="#111" stroke-width="0.8" />
<text x="164.65" y="263.60" font-size="4.8" text-anchor="middle" font-weight="bold" fill="#111" textLength="6.40" lengthAdjust="spacingAndGlyphs">390</text>
<line x1="186.00" y1="256.40" x2="186.00" y2="258.40" stroke="#111" stroke-width="0.8" />
<text x="186.00" y="263.60" font-size="4.8" text-anchor="middle" font-weight="bold" fill="#111" textLength="6.40" lengthAdjust="spacingAndGlyphs">400</text>
<text x="147.90" y="270.60" font-size="7.2" text-anchor="middle" font-weight="bold" fill="#111" textLength="50.60" lengthAdjust="spacingAndGlyphs">Wavelength (nm)</text>
<text x="84.00" y="223.00" font-size="6.8" text-anchor="middle" font-weight="bold" fill="#111" textLength="56.00" lengthAdjust="spacingAndGlyphs" transform="rotate(-90 84.00 223.00)">Rel. Intensity (a.u)</text>
<line x1="97.90" y1="186.10" x2="109.70" y2="186.10" stroke="#000000" stroke-width="1.4" />
<text x="110.80" y="188.00" font-size="5.4" font-weight="bold" textLength="21.20" lengthAdjust="spacingAndGlyphs">(a): 386.7</text>
<line x1="97.90" y1="192.36" x2="109.70" y2="192.36" stroke="#ff0000" stroke-width="1.4" />
<text x="110.80" y="194.26" font-size="5.4" font-weight="bold" textLength="21.20" lengthAdjust="spacingAndGlyphs">(b): 386.6</text>
<line x1="97.90" y1="198.62" x2="109.70" y2="198.62" stroke="#00ee00" stroke-width="1.4" />
<text x="110.80" y="200.52" font-size="5.4" font-weight="bold" textLength="21.20" lengthAdjust="spacingAndGlyphs">(c): 386.8</text>
<line x1="97.90" y1="204.88" x2="109.70" y2="204.88" stroke="#0000ff" stroke-width="1.4" />
<text x="110.80" y="206.78" font-size="5.4" font-weight="bold" textLength="21.20" lengthAdjust="spacingAndGlyphs">(d): 386.8</text>
<line x1="97.90" y1="211.14" x2="109.70" y2="211.14" stroke="#ff00ff" stroke-width="1.4" />
<text x="110.80" y="213.04" font-size="5.4" font-weight="bold" textLength="21.20" lengthAdjust="spacingAndGlyphs">(e): 387.3</text>
<line x1="97.90" y1="217.40" x2="109.70" y2="217.40" stroke="#ffff00" stroke-width="1.4" />
<text x="110.80" y="219.30" font-size="5.4" font-weight="bold" textLength="14.50" lengthAdjust="spacingAndGlyphs">(f): 388</text>
<rect x="246.00" y="168.50" width="176.00" height="128.30" fill="none" stroke="#111" stroke-width="1.2"/>
<line x1="243.50" y1="296.80" x2="246.00" y2="296.80" stroke="#111" stroke-width="1" />
<text x="240.70" y="299.10" font-size="6.6" text-anchor="end" font-weight="bold" fill="#111" textLength="10.40" lengthAdjust="spacingAndGlyphs">120</text>
<line x1="243.50" y1="273.35" x2="246.00" y2="273.35" stroke="#111" stroke-width="1" />
<text x="240.70" y="275.65" font-size="6.6" text-anchor="end" font-weight="bold" fill="#111" textLength="10.40" lengthAdjust="spacingAndGlyphs">140</text>
<line x1="243.50" y1="249.90" x2="246.00" y2="249.90" stroke="#111" stroke-width="1" />
<text x="240.70" y="252.20" font-size="6.6" text-anchor="end" font-weight="bold" fill="#111" textLength="10.40" lengthAdjust="spacingAndGlyphs">160</text>
<line x1="243.50" y1="226.45" x2="246.00" y2="226.45" stroke="#111" stroke-width="1" />
<text x="240.70" y="228.75" font-size="6.6" text-anchor="end" font-weight="bold" fill="#111" textLength="10.40" lengthAdjust="spacingAndGlyphs">180</text>
<line x1="243.50" y1="203.00" x2="246.00" y2="203.00" stroke="#111" stroke-width="1" />
<text x="240.70" y="205.30" font-size="6.6" text-anchor="end" font-weight="bold" fill="#111" textLength="10.40" lengthAdjust="spacingAndGlyphs">200</text>
<line x1="243.50" y1="179.55" x2="246.00" y2="179.55" stroke="#111" stroke-width="1" />
<text x="240.70" y="181.85" font-size="6.6" text-anchor="end" font-weight="bold" fill="#111" textLength="10.40" lengthAdjust="spacingAndGlyphs">220</text>
<line x1="244.50" y1="285.07" x2="246.00" y2="285.07" stroke="#111" stroke-width="0.8" />
<line x1="244.50" y1="261.62" x2="246.00" y2="261.62" stroke="#111" stroke-width="0.8" />
<line x1="244.50" y1="238.18" x2="246.00" y2="238.18" stroke="#111" stroke-width="0.8" />
<line x1="244.50" y1="214.73" x2="246.00" y2="214.73" stroke="#111" stroke-width="0.8" />
<line x1="244.50" y1="191.28" x2="246.00" y2="191.28" stroke="#111" stroke-width="0.8" />
<line x1="422.00" y1="296.80" x2="424.50" y2="296.80" stroke="#111" stroke-width="1" />
<text x="425.80" y="299.10" font-size="6.6" font-weight="bold" fill="#111" textLength="3.40" lengthAdjust="spacingAndGlyphs">4</text>
<line x1="422.00" y1="278.47" x2="424.50" y2="278.47" stroke="#111" stroke-width="1" />
<text x="425.80" y="280.77" font-size="6.6" font-weight="bold" fill="#111" textLength="3.40" lengthAdjust="spacingAndGlyphs">6</text>
<line x1="422.00" y1="260.14" x2="424.50" y2="260.14" stroke="#111" stroke-width="1" />
<text x="425.80" y="262.44" font-size="6.6" font-weight="bold" fill="#111" textLength="3.40" lengthAdjust="spacingAndGlyphs">8</text>
<line x1="422.00" y1="241.82" x2="424.50" y2="241.82" stroke="#111" stroke-width="1" />
<text x="425.80" y="244.12" font-size="6.6" font-weight="bold" fill="#111" textLength="6.80" lengthAdjust="spacingAndGlyphs">10</text>
<line x1="422.00" y1="223.49" x2="424.50" y2="223.49" stroke="#111" stroke-width="1" />
<text x="425.80" y="225.79" font-size="6.6" font-weight="bold" fill="#111" textLength="6.80" lengthAdjust="spacingAndGlyphs">12</text>
<line x1="422.00" y1="205.16" x2="424.50" y2="205.16" stroke="#111" stroke-width="1" />
<text x="425.80" y="207.46" font-size="6.6" font-weight="bold" fill="#111" textLength="6.80" lengthAdjust="spacingAndGlyphs">14</text>
<line x1="422.00" y1="186.83" x2="424.50" y2="186.83" stroke="#111" stroke-width="1" />
<text x="425.80" y="189.13" font-size="6.6" font-weight="bold" fill="#111" textLength="6.80" lengthAdjust="spacingAndGlyphs">16</text>
<line x1="422.00" y1="168.50" x2="424.50" y2="168.50" stroke="#111" stroke-width="1" />
<text x="425.80" y="170.80" font-size="6.6" font-weight="bold" fill="#111" textLength="6.80" lengthAdjust="spacingAndGlyphs">18</text>
<line x1="422.00" y1="287.64" x2="423.50" y2="287.64" stroke="#111" stroke-width="0.8" />
<line x1="422.00" y1="269.31" x2="423.50" y2="269.31" stroke="#111" stroke-width="0.8" />
<line x1="422.00" y1="250.98" x2="423.50" y2="250.98" stroke="#111" stroke-width="0.8" />
<line x1="422.00" y1="232.65" x2="423.50" y2="232.65" stroke="#111" stroke-width="0.8" />
<line x1="422.00" y1="214.32" x2="423.50" y2="214.32" stroke="#111" stroke-width="0.8" />
<line x1="422.00" y1="196.00" x2="423.50" y2="196.00" stroke="#111" stroke-width="0.8" />
<line x1="422.00" y1="177.67" x2="423.50" y2="177.67" stroke="#111" stroke-width="0.8" />
<line x1="246.00" y1="296.80" x2="246.00" y2="299.30" stroke="#111" stroke-width="1" />
<text x="246.00" y="306.90" font-size="6.6" text-anchor="middle" font-weight="bold" fill="#111" textLength="12.50" lengthAdjust="spacingAndGlyphs">0,00</text>
<line x1="277.80" y1="296.80" x2="277.80" y2="299.30" stroke="#111" stroke-width="1" />
<text x="277.80" y="306.90" font-size="6.6" text-anchor="middle" font-weight="bold" fill="#111" textLength="12.50" lengthAdjust="spacingAndGlyphs">0,02</text>
<line x1="309.60" y1="296.80" x2="309.60" y2="299.30" stroke="#111" stroke-width="1" />
<text x="309.60" y="306.90" font-size="6.6" text-anchor="middle" font-weight="bold" fill="#111" textLength="12.50" lengthAdjust="spacingAndGlyphs">0,04</text>
<line x1="341.40" y1="296.80" x2="341.40" y2="299.30" stroke="#111" stroke-width="1" />
<text x="341.40" y="306.90" font-size="6.6" text-anchor="middle" font-weight="bold" fill="#111" textLength="12.50" lengthAdjust="spacingAndGlyphs">0,06</text>
<line x1="373.20" y1="296.80" x2="373.20" y2="299.30" stroke="#111" stroke-width="1" />
<text x="373.20" y="306.90" font-size="6.6" text-anchor="middle" font-weight="bold" fill="#111" textLength="12.50" lengthAdjust="spacingAndGlyphs">0,08</text>
<line x1="405.00" y1="296.80" x2="405.00" y2="299.30" stroke="#111" stroke-width="1" />
<text x="405.00" y="306.90" font-size="6.6" text-anchor="middle" font-weight="bold" fill="#111" textLength="12.50" lengthAdjust="spacingAndGlyphs">0,10</text>
<line x1="261.90" y1="296.80" x2="261.90" y2="298.30" stroke="#111" stroke-width="0.8" />
<line x1="293.70" y1="296.80" x2="293.70" y2="298.30" stroke="#111" stroke-width="0.8" />
<line x1="325.50" y1="296.80" x2="325.50" y2="298.30" stroke="#111" stroke-width="0.8" />
<line x1="357.30" y1="296.80" x2="357.30" y2="298.30" stroke="#111" stroke-width="0.8" />
<line x1="389.10" y1="296.80" x2="389.10" y2="298.30" stroke="#111" stroke-width="0.8" />
<text x="331.00" y="318.20" font-size="7.3" text-anchor="middle" font-weight="bold" fill="#111" textLength="76.00" lengthAdjust="spacingAndGlyphs">Growth concentration</text>
<text x="226.50" y="238.20" font-size="7.8" text-anchor="middle" font-weight="bold" fill="#111" textLength="78.00" lengthAdjust="spacingAndGlyphs" transform="rotate(-90 226.50 238.20)">Relative Int. Exc. peak em</text>
<text x="443.6" y="231.3" font-size="7.8" text-anchor="middle" fill="#111" font-weight="bold" transform="rotate(-90 443.6 231.3)" textLength="99" lengthAdjust="spacingAndGlyphs">PL emission ratio: I<tspan font-size="5.8" dy="1.8">UV</tspan><tspan dy="-1.8">/I</tspan><tspan font-size="5.8" dy="1.8">DLE</tspan></text>
<polyline points="254.00,279.30 261.90,263.70 293.70,262.80 325.80,180.00 357.50,214.50 405.50,256.70" fill="none" stroke="#111" stroke-width="1.1" stroke-linejoin="round" />
<polyline points="254.00,179.10 261.90,197.60 293.70,203.60 325.80,205.20 357.50,266.90 405.50,286.20" fill="none" stroke="#111" stroke-width="1.1" stroke-linejoin="round" />
<rect x="252.30" y="277.60" width="3.40" height="3.40" fill="#fff" stroke="#444" stroke-width="0.8"/>
<rect x="260.20" y="262.00" width="3.40" height="3.40" fill="#fff" stroke="#444" stroke-width="0.8"/>
<rect x="292.00" y="261.10" width="3.40" height="3.40" fill="#fff" stroke="#444" stroke-width="0.8"/>
<rect x="324.10" y="178.30" width="3.40" height="3.40" fill="#fff" stroke="#444" stroke-width="0.8"/>
<rect x="355.80" y="212.80" width="3.40" height="3.40" fill="#fff" stroke="#444" stroke-width="0.8"/>
<rect x="403.80" y="255.00" width="3.40" height="3.40" fill="#fff" stroke="#444" stroke-width="0.8"/>
<rect x="251.90" y="177.00" width="4.20" height="4.20" fill="#ff0000"/>
<rect x="259.80" y="195.50" width="4.20" height="4.20" fill="#ff0000"/>
<rect x="291.60" y="201.50" width="4.20" height="4.20" fill="#ff0000"/>
<rect x="323.70" y="203.10" width="4.20" height="4.20" fill="#ff0000"/>
<rect x="355.40" y="264.80" width="4.20" height="4.20" fill="#ff0000"/>
<rect x="403.40" y="284.10" width="4.20" height="4.20" fill="#ff0000"/>
<rect x="281.70" y="171.80" width="18.40" height="18.20" fill="#b4b4b4"/>
<text x="290.90" y="185.00" font-size="20" text-anchor="middle" fill="#000" font-family="Liberation Serif, Times New Roman, serif">f</text>
<line x1="343.00" y1="176.70" x2="358.50" y2="176.70" stroke="#111" stroke-width="1" />
<rect x="348.90" y="175.10" width="3.20" height="3.20" fill="#fff" stroke="#444" stroke-width="0.8"/>
<text x="362.30" y="179.20" font-size="6.6" font-weight="bold" fill="#111" textLength="55.40" lengthAdjust="spacingAndGlyphs">Int. Exc. peak em</text>
<line x1="343.00" y1="184.70" x2="358.50" y2="184.70" stroke="#111" stroke-width="1" />
<rect x="348.60" y="182.80" width="3.80" height="3.80" fill="#ff0000"/>
<text x="360.4" y="187.2" font-size="6.6" fill="#111" font-weight="bold" textLength="47.4" lengthAdjust="spacing">Ratio: I<tspan font-size="4.8" dy="1.8">UV,</tspan><tspan dy="-1.8">/I</tspan><tspan font-size="4.8" dy="1.8">DLE</tspan></text>
<line x1="504.40" y1="168.00" x2="504.40" y2="292.80" stroke="#666" stroke-width="1" />
<polyline points="504.34,290.47 504.96,290.35 505.58,290.21 506.19,290.07 506.81,289.91 507.43,289.74 508.04,289.56 508.66,289.36 509.28,289.14 509.89,288.90 510.51,288.63 511.12,288.34 511.74,288.01 512.36,287.65 512.97,287.24 513.59,286.78 514.21,286.27 514.82,285.68 515.44,285.00 516.06,284.21 516.67,283.28 517.29,282.18 517.90,280.85 518.52,279.23 519.14,277.26 519.75,274.85 520.37,271.90 520.99,268.33 521.60,264.02 522.22,258.90 522.84,252.88 523.45,245.96 524.07,238.18 524.69,229.71 525.30,220.90 525.92,212.37 526.53,204.97 527.15,199.76 527.77,197.66 528.38,199.07 529.00,203.72 529.62,210.76 530.23,219.15 530.85,227.96 531.47,236.53 532.08,244.47 532.70,251.57 533.31,257.77 533.93,263.06 534.55,267.53 535.16,271.24 535.78,274.31 536.40,276.81 537.01,278.87 537.63,280.55 538.25,281.93 538.86,283.08 539.48,284.04 540.10,284.85 540.71,285.55 541.33,286.16 541.94,286.69 542.56,287.15 543.18,287.57 543.79,287.94 544.41,288.27 545.03,288.57 545.64,288.84 546.26,289.09 546.88,289.32 547.49,289.52 548.11,289.71 548.73,289.88 549.34,290.04 549.96,290.19 550.57,290.32 551.19,290.45 551.81,290.56 552.42,290.67 553.04,290.77 553.66,290.86 554.27,290.95 554.89,291.03 555.51,291.11 556.12,291.18 556.74,291.24 557.35,291.31 557.97,291.37 558.59,291.42 559.20,291.48 559.82,291.52 560.44,291.57 561.05,291.62 561.67,291.66 562.29,291.70 562.90,291.74 563.52,291.77 564.13,291.81 564.75,291.84 565.37,291.87 565.98,291.90 566.60,291.93 567.22,291.95 567.83,291.98 568.45,292.00 569.07,292.03 569.68,292.05 570.30,292.07 570.92,292.09 571.53,292.11 572.15,292.13 572.76,292.15 573.38,292.17 574.00,292.18 574.61,292.20 575.23,292.21 575.85,292.23 576.46,292.24 577.08,292.26 577.70,292.27 578.31,292.28 578.93,292.29 579.54,292.31 580.16,292.32 580.78,292.33 581.39,292.34 582.01,292.35 582.63,292.36 583.24,292.37 583.86,292.38 584.48,292.39 585.09,292.40 585.71,292.41 586.33,292.41 586.94,292.42 587.56,292.43 588.17,292.44 588.79,292.44 589.41,292.45 590.02,292.46 590.64,292.46 591.26,292.47 591.87,292.48 592.49,292.48 593.11,292.49 593.72,292.50 594.34,292.50 594.95,292.51 595.57,292.51 596.19,292.52 596.80,292.52 597.42,292.53 598.04,292.53 598.65,292.54 599.27,292.54 599.89,292.55 600.50,292.55 601.12,292.55 601.74,292.56 602.35,292.56 602.97,292.57 603.58,292.57 604.20,292.57 604.82,292.58 605.43,292.58 606.05,292.58 606.67,292.59 607.28,292.59 607.90,292.59 608.52,292.60 609.13,292.60 609.75,292.60 610.37,292.61 610.98,292.61 611.60,292.61 612.21,292.61 612.83,292.62 613.45,292.62 614.06,292.62 614.68,292.62 615.30,292.63 615.91,292.63 616.53,292.63 617.15,292.63 617.76,292.64 618.38,292.64 618.99,292.64 619.61,292.64 620.23,292.64 620.84,292.65 621.46,292.65 622.08,292.65 622.69,292.65 623.31,292.65 623.93,292.66 624.54,292.66 625.16,292.66 625.77,292.66 626.39,292.66 627.01,292.67 627.62,292.67 628.24,292.67 628.86,292.67 629.47,292.67 630.09,292.67 630.71,292.67 631.32,292.68 631.94,292.68 632.56,292.68 633.17,292.68 633.79,292.68 634.40,292.68 635.02,292.68 635.64,292.69 636.25,292.69 636.87,292.69 637.49,292.69 638.10,292.69 638.72,292.69 639.34,292.69 639.95,292.69 640.57,292.70 641.18,292.70 641.80,292.70 642.42,292.70 643.03,292.70 643.65,292.70 644.27,292.70 644.88,292.70 645.50,292.70 646.12,292.71 646.73,292.71 647.35,292.71 647.97,292.71 648.58,292.71 649.20,292.71 649.81,292.71 650.43,292.71 651.05,292.71 651.66,292.71 652.28,292.71 652.90,292.72 653.51,292.72 654.13,292.72 654.75,292.72 655.36,292.72 655.98,292.72 656.60,292.72 657.21,292.72 657.83,292.72 658.44,292.72 659.06,292.72 659.68,292.72 660.29,292.72 660.91,292.73 661.53,292.73 662.14,292.73 662.76,292.73 663.38,292.73 663.99,292.73 664.61,292.73 665.22,292.73 665.84,292.73 666.46,292.73 667.07,292.73 667.69,292.73 668.31,292.73 668.92,292.73 669.54,292.73 670.16,292.73 670.77,292.74 671.39,292.74 672.00,292.74 672.62,292.74 673.24,292.74 673.85,292.74 674.47,292.74 675.09,292.74 675.70,292.74 676.32,292.74" fill="none" stroke="#1a8a2a" stroke-width="1.1" stroke-linejoin="round" />
<polyline points="504.34,290.04 504.96,289.90 505.58,289.74 506.19,289.57 506.81,289.38 507.43,289.18 508.04,288.97 508.66,288.73 509.28,288.47 509.89,288.18 510.51,287.86 511.12,287.52 511.74,287.13 512.36,286.70 512.97,286.22 513.59,285.68 514.21,285.07 514.82,284.37 515.44,283.57 516.06,282.64 516.67,281.54 517.29,280.23 517.90,278.65 518.52,276.74 519.14,274.41 519.75,271.55 520.37,268.07 520.99,263.84 521.60,258.74 522.22,252.67 522.84,245.55 523.45,237.36 524.07,228.15 524.69,218.13 525.30,207.70 525.92,197.60 526.53,188.85 527.15,182.68 527.77,180.19 528.38,181.86 529.00,187.37 529.62,195.70 530.23,205.63 530.85,216.06 531.47,226.20 532.08,235.60 532.70,244.00 533.31,251.33 533.93,257.61 534.55,262.89 535.16,267.29 535.78,270.91 536.40,273.88 537.01,276.31 537.63,278.30 538.25,279.93 538.86,281.29 539.48,282.43 540.10,283.39 540.71,284.22 541.33,284.94 541.94,285.56 542.56,286.12 543.18,286.61 543.79,287.05 544.41,287.44 545.03,287.80 545.64,288.12 546.26,288.41 546.88,288.68 547.49,288.92 548.11,289.14 548.73,289.35 549.34,289.53 549.96,289.71 550.57,289.87 551.19,290.01 551.81,290.15 552.42,290.28 553.04,290.40 553.66,290.51 554.27,290.61 554.89,290.71 555.51,290.80 556.12,290.88 556.74,290.96 557.35,291.03 557.97,291.10 558.59,291.17 559.20,291.23 559.82,291.29 560.44,291.35 561.05,291.40 561.67,291.45 562.29,291.50 562.90,291.54 563.52,291.58 564.13,291.62 564.75,291.66 565.37,291.70 565.98,291.73 566.60,291.77 567.22,291.80 567.83,291.83 568.45,291.86 569.07,291.89 569.68,291.91 570.30,291.94 570.92,291.96 571.53,291.98 572.15,292.01 572.76,292.03 573.38,292.05 574.00,292.07 574.61,292.09 575.23,292.11 575.85,292.12 576.46,292.14 577.08,292.16 577.70,292.17 578.31,292.19 578.93,292.20 579.54,292.22 580.16,292.23 580.78,292.24 581.39,292.26 582.01,292.27 582.63,292.28 583.24,292.29 583.86,292.30 584.48,292.31 585.09,292.32 585.71,292.33 586.33,292.34 586.94,292.35 587.56,292.36 588.17,292.37 588.79,292.38 589.41,292.39 590.02,292.40 590.64,292.40 591.26,292.41 591.87,292.42 592.49,292.43 593.11,292.43 593.72,292.44 594.34,292.45 594.95,292.45 595.57,292.46 596.19,292.46 596.80,292.47 597.42,292.48 598.04,292.48 598.65,292.49 599.27,292.49 599.89,292.50 600.50,292.50 601.12,292.51 601.74,292.51 602.35,292.52 602.97,292.52 603.58,292.53 604.20,292.53 604.82,292.54 605.43,292.54 606.05,292.54 606.67,292.55 607.28,292.55 607.90,292.56 608.52,292.56 609.13,292.56 609.75,292.57 610.37,292.57 610.98,292.57 611.60,292.58 612.21,292.58 612.83,292.58 613.45,292.59 614.06,292.59 614.68,292.59 615.30,292.59 615.91,292.60 616.53,292.60 617.15,292.60 617.76,292.61 618.38,292.61 618.99,292.61 619.61,292.61 620.23,292.62 620.84,292.62 621.46,292.62 622.08,292.62 622.69,292.63 623.31,292.63 623.93,292.63 624.54,292.63 625.16,292.63 625.77,292.64 626.39,292.64 627.01,292.64 627.62,292.64 628.24,292.64 628.86,292.65 629.47,292.65 630.09,292.65 630.71,292.65 631.32,292.65 631.94,292.66 632.56,292.66 633.17,292.66 633.79,292.66 634.40,292.66 635.02,292.66 635.64,292.66 636.25,292.67 636.87,292.67 637.49,292.67 638.10,292.67 638.72,292.67 639.34,292.67 639.95,292.68 640.57,292.68 641.18,292.68 641.80,292.68 642.42,292.68 643.03,292.68 643.65,292.68 644.27,292.68 644.88,292.69 645.50,292.69 646.12,292.69 646.73,292.69 647.35,292.69 647.97,292.69 648.58,292.69 649.20,292.69 649.81,292.69 650.43,292.70 651.05,292.70 651.66,292.70 652.28,292.70 652.90,292.70 653.51,292.70 654.13,292.70 654.75,292.70 655.36,292.70 655.98,292.70 656.60,292.71 657.21,292.71 657.83,292.71 658.44,292.71 659.06,292.71 659.68,292.71 660.29,292.71 660.91,292.71 661.53,292.71 662.14,292.71 662.76,292.71 663.38,292.71 663.99,292.72 664.61,292.72 665.22,292.72 665.84,292.72 666.46,292.72 667.07,292.72 667.69,292.72 668.31,292.72 668.92,292.72 669.54,292.72 670.16,292.72 670.77,292.72 671.39,292.72 672.00,292.72 672.62,292.73 673.24,292.73 673.85,292.73 674.47,292.73 675.09,292.73 675.70,292.73 676.32,292.73" fill="none" stroke="#2828e8" stroke-width="1.1" stroke-linejoin="round" />
<polyline points="504.34,291.81 504.96,291.76 505.58,291.71 506.19,291.65 506.81,291.58 507.43,291.51 508.04,291.43 508.66,291.34 509.28,291.25 509.89,291.15 510.51,291.04 511.12,290.91 511.74,290.77 512.36,290.62 512.97,290.45 513.59,290.26 514.21,290.04 514.82,289.79 515.44,289.50 516.06,289.17 516.67,288.77 517.29,288.31 517.90,287.74 518.52,287.06 519.14,286.23 519.75,285.21 520.37,283.96 520.99,282.45 521.60,280.63 522.22,278.46 522.84,275.92 523.45,272.99 524.07,269.70 524.69,266.12 525.30,262.39 525.92,258.78 526.53,255.65 527.15,253.45 527.77,252.56 528.38,253.16 529.00,255.12 529.62,258.10 530.23,261.65 530.85,265.38 531.47,269.00 532.08,272.36 532.70,275.36 533.31,277.98 533.93,280.22 534.55,282.11 535.16,283.68 535.78,284.98 536.40,286.04 537.01,286.91 537.63,287.62 538.25,288.20 538.86,288.69 539.48,289.09 540.10,289.44 540.71,289.73 541.33,289.99 541.94,290.21 542.56,290.41 543.18,290.59 543.79,290.74 544.41,290.89 545.03,291.01 545.64,291.13 546.26,291.23 546.88,291.33 547.49,291.41 548.11,291.49 548.73,291.57 549.34,291.63 549.96,291.69 550.57,291.75 551.19,291.80 551.81,291.85 552.42,291.90 553.04,291.94 553.66,291.98 554.27,292.02 554.89,292.05 555.51,292.08 556.12,292.11 556.74,292.14 557.35,292.17 557.97,292.19 558.59,292.22 559.20,292.24 559.82,292.26 560.44,292.28 561.05,292.30 561.67,292.32 562.29,292.33 562.90,292.35 563.52,292.37 564.13,292.38 564.75,292.39 565.37,292.41 565.98,292.42 566.60,292.43 567.22,292.44 567.83,292.45 568.45,292.46 569.07,292.47 569.68,292.48 570.30,292.49 570.92,292.50 571.53,292.51 572.15,292.52 572.76,292.52 573.38,292.53 574.00,292.54 574.61,292.55 575.23,292.55 575.85,292.56 576.46,292.56 577.08,292.57 577.70,292.58 578.31,292.58 578.93,292.59 579.54,292.59 580.16,292.60 580.78,292.60 581.39,292.61 582.01,292.61 582.63,292.61 583.24,292.62 583.86,292.62 584.48,292.63 585.09,292.63 585.71,292.63 586.33,292.64 586.94,292.64 587.56,292.64 588.17,292.65 588.79,292.65 589.41,292.65 590.02,292.66 590.64,292.66 591.26,292.66 591.87,292.66 592.49,292.67 593.11,292.67 593.72,292.67 594.34,292.67 594.95,292.68 595.57,292.68 596.19,292.68 596.80,292.68 597.42,292.68 598.04,292.69 598.65,292.69 599.27,292.69 599.89,292.69 600.50,292.69 601.12,292.70 601.74,292.70 602.35,292.70 602.97,292.70 603.58,292.70 604.20,292.70 604.82,292.71 605.43,292.71 606.05,292.71 606.67,292.71 607.28,292.71 607.90,292.71 608.52,292.71 609.13,292.72 609.75,292.72 610.37,292.72 610.98,292.72 611.60,292.72 612.21,292.72 612.83,292.72 613.45,292.72 614.06,292.72 614.68,292.73 615.30,292.73 615.91,292.73 616.53,292.73 617.15,292.73 617.76,292.73 618.38,292.73 618.99,292.73 619.61,292.73 620.23,292.73 620.84,292.74 621.46,292.74 622.08,292.74 622.69,292.74 623.31,292.74 623.93,292.74 624.54,292.74 625.16,292.74 625.77,292.74 626.39,292.74 627.01,292.74 627.62,292.74 628.24,292.74 628.86,292.75 629.47,292.75 630.09,292.75 630.71,292.75 631.32,292.75 631.94,292.75 632.56,292.75 633.17,292.75 633.79,292.75 634.40,292.75 635.02,292.75 635.64,292.75 636.25,292.75 636.87,292.75 637.49,292.75 638.10,292.75 638.72,292.75 639.34,292.75 639.95,292.76 640.57,292.76 641.18,292.76 641.80,292.76 642.42,292.76 643.03,292.76 643.65,292.76 644.27,292.76 644.88,292.76 645.50,292.76 646.12,292.76 646.73,292.76 647.35,292.76 647.97,292.76 648.58,292.76 649.20,292.76 649.81,292.76 650.43,292.76 651.05,292.76 651.66,292.76 652.28,292.76 652.90,292.76 653.51,292.76 654.13,292.76 654.75,292.77 655.36,292.77 655.98,292.77 656.60,292.77 657.21,292.77 657.83,292.77 658.44,292.77 659.06,292.77 659.68,292.77 660.29,292.77 660.91,292.77 661.53,292.77 662.14,292.77 662.76,292.77 663.38,292.77 663.99,292.77 664.61,292.77 665.22,292.77 665.84,292.77 666.46,292.77 667.07,292.77 667.69,292.77 668.31,292.77 668.92,292.77 669.54,292.77 670.16,292.77 670.77,292.77 671.39,292.77 672.00,292.77 672.62,292.77 673.24,292.77 673.85,292.77 674.47,292.77 675.09,292.77 675.70,292.77 676.32,292.77" fill="none" stroke="#f08a20" stroke-width="1.4" stroke-linejoin="round" />
<polyline points="504.34,291.84 504.96,291.79 505.58,291.73 506.19,291.67 506.81,291.61 507.43,291.54 508.04,291.46 508.66,291.38 509.28,291.29 509.89,291.19 510.51,291.08 511.12,290.96 511.74,290.82 512.36,290.67 512.97,290.50 513.59,290.32 514.21,290.10 514.82,289.86 515.44,289.58 516.06,289.25 516.67,288.87 517.29,288.41 517.90,287.86 518.52,287.19 519.14,286.38 519.75,285.38 520.37,284.17 520.99,282.69 521.60,280.91 522.22,278.79 522.84,276.31 523.45,273.45 524.07,270.24 524.69,266.74 525.30,263.10 525.92,259.57 526.53,256.52 527.15,254.37 527.77,253.50 528.38,254.08 529.00,256.00 529.62,258.91 530.23,262.37 530.85,266.01 531.47,269.56 532.08,272.83 532.70,275.77 533.31,278.33 533.93,280.52 534.55,282.36 535.16,283.89 535.78,285.16 536.40,286.20 537.01,287.04 537.63,287.74 538.25,288.31 538.86,288.78 539.48,289.18 540.10,289.52 540.71,289.81 541.33,290.06 541.94,290.27 542.56,290.47 543.18,290.64 543.79,290.79 544.41,290.93 545.03,291.05 545.64,291.17 546.26,291.27 546.88,291.36 547.49,291.45 548.11,291.52 548.73,291.59 549.34,291.66 549.96,291.72 550.57,291.78 551.19,291.83 551.81,291.88 552.42,291.92 553.04,291.96 553.66,292.00 554.27,292.04 554.89,292.07 555.51,292.10 556.12,292.13 556.74,292.16 557.35,292.18 557.97,292.21 558.59,292.23 559.20,292.25 559.82,292.27 560.44,292.29 561.05,292.31 561.67,292.33 562.29,292.34 562.90,292.36 563.52,292.38 564.13,292.39 564.75,292.40 565.37,292.42 565.98,292.43 566.60,292.44 567.22,292.45 567.83,292.46 568.45,292.47 569.07,292.48 569.68,292.49 570.30,292.50 570.92,292.51 571.53,292.52 572.15,292.52 572.76,292.53 573.38,292.54 574.00,292.54 574.61,292.55 575.23,292.56 575.85,292.56 576.46,292.57 577.08,292.58 577.70,292.58 578.31,292.59 578.93,292.59 579.54,292.60 580.16,292.60 580.78,292.61 581.39,292.61 582.01,292.61 582.63,292.62 583.24,292.62 583.86,292.63 584.48,292.63 585.09,292.63 585.71,292.64 586.33,292.64 586.94,292.64 587.56,292.65 588.17,292.65 588.79,292.65 589.41,292.66 590.02,292.66 590.64,292.66 591.26,292.66 591.87,292.67 592.49,292.67 593.11,292.67 593.72,292.67 594.34,292.68 594.95,292.68 595.57,292.68 596.19,292.68 596.80,292.69 597.42,292.69 598.04,292.69 598.65,292.69 599.27,292.69 599.89,292.69 600.50,292.70 601.12,292.70 601.74,292.70 602.35,292.70 602.97,292.70 603.58,292.70 604.20,292.71 604.82,292.71 605.43,292.71 606.05,292.71 606.67,292.71 607.28,292.71 607.90,292.71 608.52,292.72 609.13,292.72 609.75,292.72 610.37,292.72 610.98,292.72 611.60,292.72 612.21,292.72 612.83,292.72 613.45,292.73 614.06,292.73 614.68,292.73 615.30,292.73 615.91,292.73 616.53,292.73 617.15,292.73 617.76,292.73 618.38,292.73 618.99,292.73 619.61,292.73 620.23,292.74 620.84,292.74 621.46,292.74 622.08,292.74 622.69,292.74 623.31,292.74 623.93,292.74 624.54,292.74 625.16,292.74 625.77,292.74 626.39,292.74 627.01,292.74 627.62,292.74 628.24,292.75 628.86,292.75 629.47,292.75 630.09,292.75 630.71,292.75 631.32,292.75 631.94,292.75 632.56,292.75 633.17,292.75 633.79,292.75 634.40,292.75 635.02,292.75 635.64,292.75 636.25,292.75 636.87,292.75 637.49,292.75 638.10,292.75 638.72,292.76 639.34,292.76 639.95,292.76 640.57,292.76 641.18,292.76 641.80,292.76 642.42,292.76 643.03,292.76 643.65,292.76 644.27,292.76 644.88,292.76 645.50,292.76 646.12,292.76 646.73,292.76 647.35,292.76 647.97,292.76 648.58,292.76 649.20,292.76 649.81,292.76 650.43,292.76 651.05,292.76 651.66,292.76 652.28,292.76 652.90,292.76 653.51,292.77 654.13,292.77 654.75,292.77 655.36,292.77 655.98,292.77 656.60,292.77 657.21,292.77 657.83,292.77 658.44,292.77 659.06,292.77 659.68,292.77 660.29,292.77 660.91,292.77 661.53,292.77 662.14,292.77 662.76,292.77 663.38,292.77 663.99,292.77 664.61,292.77 665.22,292.77 665.84,292.77 666.46,292.77 667.07,292.77 667.69,292.77 668.31,292.77 668.92,292.77 669.54,292.77 670.16,292.77 670.77,292.77 671.39,292.77 672.00,292.77 672.62,292.77 673.24,292.77 673.85,292.77 674.47,292.77 675.09,292.77 675.70,292.77 676.32,292.78" fill="none" stroke="#902090" stroke-width="1.1" stroke-linejoin="round" />
<polyline points="504.34,291.82 504.96,291.77 505.58,291.71 506.19,291.65 506.81,291.59 507.43,291.52 508.04,291.44 508.66,291.36 509.28,291.26 509.89,291.16 510.51,291.05 511.12,290.93 511.74,290.79 512.36,290.64 512.97,290.47 513.59,290.28 514.21,290.06 514.82,289.81 515.44,289.53 516.06,289.20 516.67,288.81 517.29,288.34 517.90,287.78 518.52,287.11 519.14,286.28 519.75,285.27 520.37,284.03 520.99,282.53 521.60,280.72 522.22,278.57 522.84,276.05 523.45,273.14 524.07,269.88 524.69,266.32 525.30,262.63 525.92,259.04 526.53,255.94 527.15,253.76 527.77,252.87 528.38,253.46 529.00,255.42 529.62,258.37 530.23,261.89 530.85,265.59 531.47,269.19 532.08,272.52 532.70,275.50 533.31,278.10 533.93,280.32 534.55,282.19 535.16,283.75 535.78,285.04 536.40,286.09 537.01,286.95 537.63,287.66 538.25,288.24 538.86,288.72 539.48,289.12 540.10,289.47 540.71,289.76 541.33,290.01 541.94,290.23 542.56,290.43 543.18,290.60 543.79,290.76 544.41,290.90 545.03,291.03 545.64,291.14 546.26,291.24 546.88,291.34 547.49,291.42 548.11,291.50 548.73,291.58 549.34,291.64 549.96,291.70 550.57,291.76 551.19,291.81 551.81,291.86 552.42,291.91 553.04,291.95 553.66,291.99 554.27,292.02 554.89,292.06 555.51,292.09 556.12,292.12 556.74,292.15 557.35,292.17 557.97,292.20 558.59,292.22 559.20,292.24 559.82,292.26 560.44,292.28 561.05,292.30 561.67,292.32 562.29,292.34 562.90,292.35 563.52,292.37 564.13,292.38 564.75,292.40 565.37,292.41 565.98,292.42 566.60,292.43 567.22,292.44 567.83,292.46 568.45,292.47 569.07,292.48 569.68,292.49 570.30,292.49 570.92,292.50 571.53,292.51 572.15,292.52 572.76,292.53 573.38,292.53 574.00,292.54 574.61,292.55 575.23,292.55 575.85,292.56 576.46,292.57 577.08,292.57 577.70,292.58 578.31,292.58 578.93,292.59 579.54,292.59 580.16,292.60 580.78,292.60 581.39,292.61 582.01,292.61 582.63,292.62 583.24,292.62 583.86,292.62 584.48,292.63 585.09,292.63 585.71,292.63 586.33,292.64 586.94,292.64 587.56,292.64 588.17,292.65 588.79,292.65 589.41,292.65 590.02,292.66 590.64,292.66 591.26,292.66 591.87,292.66 592.49,292.67 593.11,292.67 593.72,292.67 594.34,292.67 594.95,292.68 595.57,292.68 596.19,292.68 596.80,292.68 597.42,292.69 598.04,292.69 598.65,292.69 599.27,292.69 599.89,292.69 600.50,292.69 601.12,292.70 601.74,292.70 602.35,292.70 602.97,292.70 603.58,292.70 604.20,292.70 604.82,292.71 605.43,292.71 606.05,292.71 606.67,292.71 607.28,292.71 607.90,292.71 608.52,292.71 609.13,292.72 609.75,292.72 610.37,292.72 610.98,292.72 611.60,292.72 612.21,292.72 612.83,292.72 613.45,292.72 614.06,292.73 614.68,292.73 615.30,292.73 615.91,292.73 616.53,292.73 617.15,292.73 617.76,292.73 618.38,292.73 618.99,292.73 619.61,292.73 620.23,292.73 620.84,292.74 621.46,292.74 622.08,292.74 622.69,292.74 623.31,292.74 623.93,292.74 624.54,292.74 625.16,292.74 625.77,292.74 626.39,292.74 627.01,292.74 627.62,292.74 628.24,292.74 628.86,292.75 629.47,292.75 630.09,292.75 630.71,292.75 631.32,292.75 631.94,292.75 632.56,292.75 633.17,292.75 633.79,292.75 634.40,292.75 635.02,292.75 635.64,292.75 636.25,292.75 636.87,292.75 637.49,292.75 638.10,292.75 638.72,292.75 639.34,292.76 639.95,292.76 640.57,292.76 641.18,292.76 641.80,292.76 642.42,292.76 643.03,292.76 643.65,292.76 644.27,292.76 644.88,292.76 645.50,292.76 646.12,292.76 646.73,292.76 647.35,292.76 647.97,292.76 648.58,292.76 649.20,292.76 649.81,292.76 650.43,292.76 651.05,292.76 651.66,292.76 652.28,292.76 652.90,292.76 653.51,292.76 654.13,292.77 654.75,292.77 655.36,292.77 655.98,292.77 656.60,292.77 657.21,292.77 657.83,292.77 658.44,292.77 659.06,292.77 659.68,292.77 660.29,292.77 660.91,292.77 661.53,292.77 662.14,292.77 662.76,292.77 663.38,292.77 663.99,292.77 664.61,292.77 665.22,292.77 665.84,292.77 666.46,292.77 667.07,292.77 667.69,292.77 668.31,292.77 668.92,292.77 669.54,292.77 670.16,292.77 670.77,292.77 671.39,292.77 672.00,292.77 672.62,292.77 673.24,292.77 673.85,292.77 674.47,292.77 675.09,292.77 675.70,292.77 676.32,292.77" fill="none" stroke="#e02828" stroke-width="1.4" stroke-linejoin="round" />
<polyline points="504.34,292.33 504.96,292.30 505.58,292.27 506.19,292.25 506.81,292.21 507.43,292.18 508.04,292.14 508.66,292.10 509.28,292.06 509.89,292.01 510.51,291.95 511.12,291.89 511.74,291.83 512.36,291.75 512.97,291.67 513.59,291.58 514.21,291.47 514.82,291.35 515.44,291.21 516.06,291.05 516.67,290.87 517.29,290.64 517.90,290.37 518.52,290.04 519.14,289.64 519.75,289.15 520.37,288.55 520.99,287.83 521.60,286.95 522.22,285.91 522.84,284.69 523.45,283.28 524.07,281.70 524.69,279.98 525.30,278.19 525.92,276.45 526.53,274.95 527.15,273.89 527.77,273.46 528.38,273.75 529.00,274.69 529.62,276.12 530.23,277.83 530.85,279.62 531.47,281.36 532.08,282.98 532.70,284.42 533.31,285.68 533.93,286.76 534.55,287.66 535.16,288.42 535.78,289.04 536.40,289.55 537.01,289.97 537.63,290.31 538.25,290.59 538.86,290.82 539.48,291.02 540.10,291.18 540.71,291.33 541.33,291.45 541.94,291.56 542.56,291.65 543.18,291.74 543.79,291.81 544.41,291.88 545.03,291.94 545.64,292.00 546.26,292.05 546.88,292.09 547.49,292.13 548.11,292.17 548.73,292.21 549.34,292.24 549.96,292.27 550.57,292.30 551.19,292.32 551.81,292.34 552.42,292.37 553.04,292.39 553.66,292.41 554.27,292.42 554.89,292.44 555.51,292.46 556.12,292.47 556.74,292.48 557.35,292.50 557.97,292.51 558.59,292.52 559.20,292.53 559.82,292.54 560.44,292.55 561.05,292.56 561.67,292.57 562.29,292.58 562.90,292.58 563.52,292.59 564.13,292.60 564.75,292.60 565.37,292.61 565.98,292.62 566.60,292.62 567.22,292.63 567.83,292.63 568.45,292.64 569.07,292.64 569.68,292.65 570.30,292.65 570.92,292.66 571.53,292.66 572.15,292.66 572.76,292.67 573.38,292.67 574.00,292.67 574.61,292.68 575.23,292.68 575.85,292.68 576.46,292.69 577.08,292.69 577.70,292.69 578.31,292.69 578.93,292.70 579.54,292.70 580.16,292.70 580.78,292.70 581.39,292.71 582.01,292.71 582.63,292.71 583.24,292.71 583.86,292.71 584.48,292.72 585.09,292.72 585.71,292.72 586.33,292.72 586.94,292.72 587.56,292.72 588.17,292.73 588.79,292.73 589.41,292.73 590.02,292.73 590.64,292.73 591.26,292.73 591.87,292.73 592.49,292.74 593.11,292.74 593.72,292.74 594.34,292.74 594.95,292.74 595.57,292.74 596.19,292.74 596.80,292.74 597.42,292.74 598.04,292.75 598.65,292.75 599.27,292.75 599.89,292.75 600.50,292.75 601.12,292.75 601.74,292.75 602.35,292.75 602.97,292.75 603.58,292.75 604.20,292.75 604.82,292.75 605.43,292.76 606.05,292.76 606.67,292.76 607.28,292.76 607.90,292.76 608.52,292.76 609.13,292.76 609.75,292.76 610.37,292.76 610.98,292.76 611.60,292.76 612.21,292.76 612.83,292.76 613.45,292.76 614.06,292.76 614.68,292.76 615.30,292.76 615.91,292.77 616.53,292.77 617.15,292.77 617.76,292.77 618.38,292.77 618.99,292.77 619.61,292.77 620.23,292.77 620.84,292.77 621.46,292.77 622.08,292.77 622.69,292.77 623.31,292.77 623.93,292.77 624.54,292.77 625.16,292.77 625.77,292.77 626.39,292.77 627.01,292.77 627.62,292.77 628.24,292.77 628.86,292.77 629.47,292.77 630.09,292.77 630.71,292.77 631.32,292.77 631.94,292.78 632.56,292.78 633.17,292.78 633.79,292.78 634.40,292.78 635.02,292.78 635.64,292.78 636.25,292.78 636.87,292.78 637.49,292.78 638.10,292.78 638.72,292.78 639.34,292.78 639.95,292.78 640.57,292.78 641.18,292.78 641.80,292.78 642.42,292.78 643.03,292.78 643.65,292.78 644.27,292.78 644.88,292.78 645.50,292.78 646.12,292.78 646.73,292.78 647.35,292.78 647.97,292.78 648.58,292.78 649.20,292.78 649.81,292.78 650.43,292.78 651.05,292.78 651.66,292.78 652.28,292.78 652.90,292.78 653.51,292.78 654.13,292.78 654.75,292.78 655.36,292.78 655.98,292.78 656.60,292.78 657.21,292.78 657.83,292.78 658.44,292.78 659.06,292.78 659.68,292.78 660.29,292.78 660.91,292.78 661.53,292.78 662.14,292.79 662.76,292.79 663.38,292.79 663.99,292.79 664.61,292.79 665.22,292.79 665.84,292.79 666.46,292.79 667.07,292.79 667.69,292.79 668.31,292.79 668.92,292.79 669.54,292.79 670.16,292.79 670.77,292.79 671.39,292.79 672.00,292.79 672.62,292.79 673.24,292.79 673.85,292.79 674.47,292.79 675.09,292.79 675.70,292.79 676.32,292.79" fill="none" stroke="#111111" stroke-width="1.1" stroke-linejoin="round" />
<line x1="502.90" y1="292.80" x2="676.90" y2="292.80" stroke="#a090a8" stroke-width="1.1" />
<line x1="501.40" y1="292.80" x2="504.40" y2="292.80" stroke="#666" stroke-width="1" />
<text x="499.30" y="295.60" font-size="7.7" text-anchor="end" fill="#262626" textLength="4.60" lengthAdjust="spacing" stroke="#262626" stroke-width="0.22">0</text>
<line x1="501.40" y1="261.60" x2="504.40" y2="261.60" stroke="#666" stroke-width="1" />
<text x="499.30" y="264.40" font-size="7.7" text-anchor="end" fill="#262626" textLength="18.40" lengthAdjust="spacing" stroke="#262626" stroke-width="0.22">5000</text>
<line x1="501.40" y1="230.40" x2="504.40" y2="230.40" stroke="#666" stroke-width="1" />
<text x="499.30" y="233.20" font-size="7.7" text-anchor="end" fill="#262626" textLength="23.00" lengthAdjust="spacing" stroke="#262626" stroke-width="0.22">10000</text>
<line x1="501.40" y1="199.20" x2="504.40" y2="199.20" stroke="#666" stroke-width="1" />
<text x="499.30" y="202.00" font-size="7.7" text-anchor="end" fill="#262626" textLength="23.00" lengthAdjust="spacing" stroke="#262626" stroke-width="0.22">15000</text>
<line x1="501.40" y1="168.00" x2="504.40" y2="168.00" stroke="#666" stroke-width="1" />
<text x="499.30" y="170.80" font-size="7.7" text-anchor="end" fill="#262626" textLength="23.00" lengthAdjust="spacing" stroke="#262626" stroke-width="0.22">20000</text>
<line x1="502.90" y1="277.20" x2="504.40" y2="277.20" stroke="#666" stroke-width="0.8" />
<line x1="502.90" y1="246.00" x2="504.40" y2="246.00" stroke="#666" stroke-width="0.8" />
<line x1="502.90" y1="214.80" x2="504.40" y2="214.80" stroke="#666" stroke-width="0.8" />
<line x1="502.90" y1="183.60" x2="504.40" y2="183.60" stroke="#666" stroke-width="0.8" />
<line x1="510.20" y1="292.80" x2="510.20" y2="295.00" stroke="#666" stroke-width="1" />
<text x="510.20" y="302.80" font-size="7.7" text-anchor="middle" fill="#262626" textLength="13.30" lengthAdjust="spacing" stroke="#262626" stroke-width="0.22">350</text>
<line x1="541.02" y1="292.80" x2="541.02" y2="295.00" stroke="#666" stroke-width="1" />
<text x="541.02" y="302.80" font-size="7.7" text-anchor="middle" fill="#262626" textLength="13.30" lengthAdjust="spacing" stroke="#262626" stroke-width="0.22">400</text>
<line x1="571.84" y1="292.80" x2="571.84" y2="295.00" stroke="#666" stroke-width="1" />
<text x="571.84" y="302.80" font-size="7.7" text-anchor="middle" fill="#262626" textLength="13.30" lengthAdjust="spacing" stroke="#262626" stroke-width="0.22">450</text>
<line x1="602.66" y1="292.80" x2="602.66" y2="295.00" stroke="#666" stroke-width="1" />
<text x="602.66" y="302.80" font-size="7.7" text-anchor="middle" fill="#262626" textLength="13.30" lengthAdjust="spacing" stroke="#262626" stroke-width="0.22">500</text>
<line x1="633.48" y1="292.80" x2="633.48" y2="295.00" stroke="#666" stroke-width="1" />
<text x="633.48" y="302.80" font-size="7.7" text-anchor="middle" fill="#262626" textLength="13.30" lengthAdjust="spacing" stroke="#262626" stroke-width="0.22">550</text>
<line x1="664.30" y1="292.80" x2="664.30" y2="295.00" stroke="#666" stroke-width="1" />
<text x="664.30" y="302.80" font-size="7.7" text-anchor="middle" fill="#262626" textLength="13.30" lengthAdjust="spacing" stroke="#262626" stroke-width="0.22">600</text>
<line x1="525.61" y1="292.80" x2="525.61" y2="294.10" stroke="#666" stroke-width="0.8" />
<line x1="556.43" y1="292.80" x2="556.43" y2="294.10" stroke="#666" stroke-width="0.8" />
<line x1="587.25" y1="292.80" x2="587.25" y2="294.10" stroke="#666" stroke-width="0.8" />
<line x1="618.07" y1="292.80" x2="618.07" y2="294.10" stroke="#666" stroke-width="0.8" />
<line x1="648.89" y1="292.80" x2="648.89" y2="294.10" stroke="#666" stroke-width="0.8" />
<line x1="679.71" y1="292.80" x2="679.71" y2="294.10" stroke="#666" stroke-width="0.8" />
<text x="590.00" y="314.60" font-size="9.6" text-anchor="middle" textLength="88.50" lengthAdjust="spacing" stroke="#222" stroke-width="0.25">Wavelength (nm)</text>
<text x="470.50" y="227.50" font-size="10.2" text-anchor="middle" textLength="90.00" lengthAdjust="spacing" transform="rotate(-90 470.50 227.50)">Intensity (arb. units)</text>
<rect x="520.30" y="159.10" width="18.70" height="18.30" fill="#b4b4b4"/>
<text x="529.65" y="172.40" font-size="20" text-anchor="middle" fill="#000" font-family="Liberation Serif, Times New Roman, serif">g</text>
<rect x="603.70" y="173.10" width="58.40" height="58.00" fill="#fff" stroke="#aaa" stroke-width="0.7"/>
<line x1="604.30" y1="178.70" x2="623.90" y2="178.70" stroke="#222" stroke-width="1.5" />
<text x="626.20" y="181.30" font-size="7" textLength="29.20" lengthAdjust="spacing" stroke="#222" stroke-width="0.22">30 mins</text>
<line x1="604.30" y1="188.03" x2="623.90" y2="188.03" stroke="#e87070" stroke-width="1.5" />
<text x="626.20" y="190.63" font-size="7" textLength="29.20" lengthAdjust="spacing" stroke="#222" stroke-width="0.22">60 mins</text>
<line x1="604.30" y1="197.36" x2="623.90" y2="197.36" stroke="#4848e8" stroke-width="1.5" />
<text x="626.20" y="199.96" font-size="7" textLength="29.20" lengthAdjust="spacing" stroke="#222" stroke-width="0.22">90 mins</text>
<line x1="604.30" y1="206.69" x2="623.90" y2="206.69" stroke="#40a048" stroke-width="1.5" />
<text x="626.20" y="209.29" font-size="7" textLength="33.20" lengthAdjust="spacing" stroke="#222" stroke-width="0.22">120 mins</text>
<line x1="604.30" y1="216.02" x2="623.90" y2="216.02" stroke="#f4b070" stroke-width="1.5" />
<text x="626.20" y="218.62" font-size="7" textLength="33.20" lengthAdjust="spacing" stroke="#222" stroke-width="0.22">150 mins</text>
<line x1="604.30" y1="225.35" x2="623.90" y2="225.35" stroke="#9848a8" stroke-width="1.5" />
<text x="626.20" y="227.95" font-size="7" textLength="33.20" lengthAdjust="spacing" stroke="#222" stroke-width="0.22">180 mins</text>
<line x1="42.30" y1="336.50" x2="42.30" y2="469.30" stroke="#666" stroke-width="1" />
<line x1="42.30" y1="469.30" x2="223.60" y2="469.30" stroke="#666" stroke-width="1" />
<line x1="39.30" y1="461.50" x2="42.30" y2="461.50" stroke="#666" stroke-width="1" />
<text x="35.60" y="464.00" font-size="7.7" text-anchor="end" fill="#262626" textLength="4.65" lengthAdjust="spacing" stroke="#262626" stroke-width="0.22">0</text>
<line x1="39.30" y1="430.70" x2="42.30" y2="430.70" stroke="#666" stroke-width="1" />
<text x="35.60" y="433.20" font-size="7.7" text-anchor="end" fill="#262626" textLength="18.60" lengthAdjust="spacing" stroke="#262626" stroke-width="0.22">4000</text>
<line x1="39.30" y1="399.90" x2="42.30" y2="399.90" stroke="#666" stroke-width="1" />
<text x="35.60" y="402.40" font-size="7.7" text-anchor="end" fill="#262626" textLength="18.60" lengthAdjust="spacing" stroke="#262626" stroke-width="0.22">8000</text>
<line x1="39.30" y1="369.10" x2="42.30" y2="369.10" stroke="#666" stroke-width="1" />
<text x="35.60" y="371.60" font-size="7.7" text-anchor="end" fill="#262626" textLength="23.25" lengthAdjust="spacing" stroke="#262626" stroke-width="0.22">12000</text>
<line x1="39.30" y1="338.30" x2="42.30" y2="338.30" stroke="#666" stroke-width="1" />
<text x="35.60" y="340.80" font-size="7.7" text-anchor="end" fill="#262626" textLength="23.25" lengthAdjust="spacing" stroke="#262626" stroke-width="0.22">16000</text>
<line x1="40.80" y1="446.10" x2="42.30" y2="446.10" stroke="#666" stroke-width="0.8" />
<line x1="40.80" y1="415.30" x2="42.30" y2="415.30" stroke="#666" stroke-width="0.8" />
<line x1="40.80" y1="384.50" x2="42.30" y2="384.50" stroke="#666" stroke-width="0.8" />
<line x1="40.80" y1="353.70" x2="42.30" y2="353.70" stroke="#666" stroke-width="0.8" />
<line x1="52.10" y1="469.30" x2="52.10" y2="467.30" stroke="#666" stroke-width="1" />
<text x="51.80" y="479.80" font-size="7.7" text-anchor="middle" fill="#262626" textLength="8.90" lengthAdjust="spacing" stroke="#262626" stroke-width="0.22">50</text>
<line x1="73.53" y1="469.30" x2="73.53" y2="467.30" stroke="#666" stroke-width="1" />
<text x="73.23" y="479.80" font-size="7.7" text-anchor="middle" fill="#262626" textLength="13.50" lengthAdjust="spacing" stroke="#262626" stroke-width="0.22">100</text>
<line x1="94.97" y1="469.30" x2="94.97" y2="467.30" stroke="#666" stroke-width="1" />
<text x="94.67" y="479.80" font-size="7.7" text-anchor="middle" fill="#262626" textLength="13.50" lengthAdjust="spacing" stroke="#262626" stroke-width="0.22">150</text>
<line x1="116.41" y1="469.30" x2="116.41" y2="467.30" stroke="#666" stroke-width="1" />
<text x="116.11" y="479.80" font-size="7.7" text-anchor="middle" fill="#262626" textLength="13.50" lengthAdjust="spacing" stroke="#262626" stroke-width="0.22">200</text>
<line x1="137.84" y1="469.30" x2="137.84" y2="467.30" stroke="#666" stroke-width="1" />
<text x="137.54" y="479.80" font-size="7.7" text-anchor="middle" fill="#262626" textLength="13.50" lengthAdjust="spacing" stroke="#262626" stroke-width="0.22">250</text>
<line x1="159.28" y1="469.30" x2="159.28" y2="467.30" stroke="#666" stroke-width="1" />
<text x="158.97" y="479.80" font-size="7.7" text-anchor="middle" fill="#262626" textLength="13.50" lengthAdjust="spacing" stroke="#262626" stroke-width="0.22">300</text>
<line x1="180.71" y1="469.30" x2="180.71" y2="467.30" stroke="#666" stroke-width="1" />
<text x="180.41" y="479.80" font-size="7.7" text-anchor="middle" fill="#262626" textLength="13.50" lengthAdjust="spacing" stroke="#262626" stroke-width="0.22">350</text>
<line x1="202.15" y1="469.30" x2="202.15" y2="467.30" stroke="#666" stroke-width="1" />
<text x="201.84" y="479.80" font-size="7.7" text-anchor="middle" fill="#262626" textLength="13.50" lengthAdjust="spacing" stroke="#262626" stroke-width="0.22">400</text>
<line x1="223.58" y1="469.30" x2="223.58" y2="467.30" stroke="#666" stroke-width="1" />
<text x="223.28" y="479.80" font-size="7.7" text-anchor="middle" fill="#262626" textLength="13.50" lengthAdjust="spacing" stroke="#262626" stroke-width="0.22">450</text>
<line x1="62.82" y1="469.30" x2="62.82" y2="468.10" stroke="#666" stroke-width="0.8" />
<line x1="84.25" y1="469.30" x2="84.25" y2="468.10" stroke="#666" stroke-width="0.8" />
<line x1="105.69" y1="469.30" x2="105.69" y2="468.10" stroke="#666" stroke-width="0.8" />
<line x1="127.12" y1="469.30" x2="127.12" y2="468.10" stroke="#666" stroke-width="0.8" />
<line x1="148.56" y1="469.30" x2="148.56" y2="468.10" stroke="#666" stroke-width="0.8" />
<line x1="169.99" y1="469.30" x2="169.99" y2="468.10" stroke="#666" stroke-width="0.8" />
<line x1="191.43" y1="469.30" x2="191.43" y2="468.10" stroke="#666" stroke-width="0.8" />
<line x1="212.86" y1="469.30" x2="212.86" y2="468.10" stroke="#666" stroke-width="0.8" />
<text x="69.3" y="493.4" font-size="9.8" fill="#222" stroke="#222" stroke-width="0.25" textLength="126" lengthAdjust="spacing">Pump Energy (mJ/cm<tspan font-size="6.8" dy="-4">2</tspan><tspan dy="4">)</tspan></text>
<text x="10.00" y="394.00" font-size="10.6" text-anchor="middle" textLength="98.50" lengthAdjust="spacing" transform="rotate(-90 10.00 394.00)">Intensity (arb. units)</text>
<polyline points="60.67,461.50 67.10,461.50 73.53,461.50 90.68,461.50 97.11,461.50 120.69,436.86 142.13,426.23 179.85,391.43 205.57,364.10" fill="none" stroke="#999" stroke-width="0.8" stroke-linejoin="round" />
<polyline points="60.67,461.50 67.10,461.50 73.53,461.50 90.68,461.50 97.11,461.50 120.69,426.85 142.13,412.61 179.85,366.79 205.57,351.39" fill="none" stroke="#f07878" stroke-width="0.8" stroke-linejoin="round" />
<polyline points="60.67,461.50 67.10,461.50 73.53,461.50 90.68,461.50 97.11,461.50 120.69,461.50 142.13,441.79 179.85,416.15 205.57,395.51" fill="none" stroke="#78e078" stroke-width="0.8" stroke-linejoin="round" />
<polyline points="60.67,461.50 67.10,461.50 73.53,461.50 90.68,461.50 97.11,461.50 120.69,461.50 142.13,433.78 179.85,378.34 205.57,361.40" fill="none" stroke="#7878e0" stroke-width="0.8" stroke-linejoin="round" />
<polyline points="60.67,461.50 67.10,461.50 73.53,461.50 90.68,461.50 97.11,461.50 120.69,457.65 142.13,454.95 179.85,451.18 205.57,445.02" fill="none" stroke="#68e8e8" stroke-width="0.8" stroke-linejoin="round" />
<polyline points="60.67,461.50 67.10,461.50 73.53,461.50 90.68,461.50 97.11,461.50 120.69,433.01 142.13,393.74 179.85,369.49 205.57,358.70" fill="none" stroke="#e058e0" stroke-width="0.8" stroke-linejoin="round" />
<rect x="59.02" y="459.85" width="3.30" height="3.30" fill="#000"/>
<rect x="65.45" y="459.85" width="3.30" height="3.30" fill="#000"/>
<rect x="71.88" y="459.85" width="3.30" height="3.30" fill="#000"/>
<rect x="89.03" y="459.85" width="3.30" height="3.30" fill="#000"/>
<rect x="95.46" y="459.85" width="3.30" height="3.30" fill="#000"/>
<rect x="119.04" y="435.21" width="3.30" height="3.30" fill="#000"/>
<rect x="140.48" y="424.58" width="3.30" height="3.30" fill="#000"/>
<rect x="178.20" y="389.78" width="3.30" height="3.30" fill="#000"/>
<rect x="203.92" y="362.45" width="3.30" height="3.30" fill="#000"/>
<circle cx="60.67" cy="461.50" r="1.8" fill="#ee0000"/>
<circle cx="67.10" cy="461.50" r="1.8" fill="#ee0000"/>
<circle cx="73.53" cy="461.50" r="1.8" fill="#ee0000"/>
<circle cx="90.68" cy="461.50" r="1.8" fill="#ee0000"/>
<circle cx="97.11" cy="461.50" r="1.8" fill="#ee0000"/>
<circle cx="120.69" cy="426.85" r="1.8" fill="#ee0000"/>
<circle cx="142.13" cy="412.61" r="1.8" fill="#ee0000"/>
<circle cx="179.85" cy="366.79" r="1.8" fill="#ee0000"/>
<circle cx="205.57" cy="351.39" r="1.8" fill="#ee0000"/>
<polygon points="60.67,459.20 62.87,463.00 58.47,463.00" fill="#00d000"/>
<polygon points="67.10,459.20 69.30,463.00 64.90,463.00" fill="#00d000"/>
<polygon points="73.53,459.20 75.73,463.00 71.33,463.00" fill="#00d000"/>
<polygon points="90.68,459.20 92.88,463.00 88.48,463.00" fill="#00d000"/>
<polygon points="97.11,459.20 99.31,463.00 94.91,463.00" fill="#00d000"/>
<polygon points="120.69,459.20 122.89,463.00 118.49,463.00" fill="#00d000"/>
<polygon points="142.13,439.49 144.33,443.29 139.93,443.29" fill="#00d000"/>
<polygon points="179.85,413.85 182.05,417.65 177.65,417.65" fill="#00d000"/>
<polygon points="205.57,393.21 207.77,397.01 203.37,397.01" fill="#00d000"/>
<polygon points="60.67,463.80 62.87,460.00 58.47,460.00" fill="#0000dd"/>
<polygon points="67.10,463.80 69.30,460.00 64.90,460.00" fill="#0000dd"/>
<polygon points="73.53,463.80 75.73,460.00 71.33,460.00" fill="#0000dd"/>
<polygon points="90.68,463.80 92.88,460.00 88.48,460.00" fill="#0000dd"/>
<polygon points="97.11,463.80 99.31,460.00 94.91,460.00" fill="#0000dd"/>
<polygon points="120.69,463.80 122.89,460.00 118.49,460.00" fill="#0000dd"/>
<polygon points="142.13,436.08 144.33,432.28 139.93,432.28" fill="#0000dd"/>
<polygon points="179.85,380.64 182.05,376.84 177.65,376.84" fill="#0000dd"/>
<polygon points="205.57,363.70 207.77,359.90 203.37,359.90" fill="#0000dd"/>
<polygon points="60.67,459.20 62.97,461.50 60.67,463.80 58.37,461.50" fill="#00e8e8"/>
<polygon points="67.10,459.20 69.40,461.50 67.10,463.80 64.80,461.50" fill="#00e8e8"/>
<polygon points="73.53,459.20 75.83,461.50 73.53,463.80 71.23,461.50" fill="#00e8e8"/>
<polygon points="90.68,459.20 92.98,461.50 90.68,463.80 88.38,461.50" fill="#00e8e8"/>
<polygon points="97.11,459.20 99.41,461.50 97.11,463.80 94.81,461.50" fill="#00e8e8"/>
<polygon points="120.69,455.35 122.99,457.65 120.69,459.95 118.39,457.65" fill="#00e8e8"/>
<polygon points="142.13,452.65 144.43,454.95 142.13,457.25 139.83,454.95" fill="#00e8e8"/>
<polygon points="179.85,448.88 182.15,451.18 179.85,453.48 177.55,451.18" fill="#00e8e8"/>
<polygon points="205.57,442.72 207.87,445.02 205.57,447.32 203.27,445.02" fill="#00e8e8"/>
<polygon points="58.37,461.50 62.17,459.30 62.17,463.70" fill="#ee00ee"/>
<polygon points="64.80,461.50 68.60,459.30 68.60,463.70" fill="#ee00ee"/>
<polygon points="71.23,461.50 75.03,459.30 75.03,463.70" fill="#ee00ee"/>
<polygon points="88.38,461.50 92.18,459.30 92.18,463.70" fill="#ee00ee"/>
<polygon points="94.81,461.50 98.61,459.30 98.61,463.70" fill="#ee00ee"/>
<polygon points="118.39,433.01 122.19,430.81 122.19,435.21" fill="#ee00ee"/>
<polygon points="139.83,393.74 143.63,391.54 143.63,395.94" fill="#ee00ee"/>
<polygon points="177.55,369.49 181.35,367.29 181.35,371.69" fill="#ee00ee"/>
<polygon points="203.27,358.70 207.07,356.50 207.07,360.90" fill="#ee00ee"/>
<rect x="50.50" y="340.10" width="57.50" height="60.90" fill="#fff" stroke="#666" stroke-width="0.8"/>
<line x1="51.80" y1="345.50" x2="72.00" y2="345.50" stroke="#999" stroke-width="1.5" />
<rect x="60.25" y="343.85" width="3.30" height="3.30" fill="#000"/>
<text x="73.70" y="348.50" font-size="8.0" fill="#2a2a2a" textLength="25.90" lengthAdjust="spacing" stroke="#2a2a2a" stroke-width="0.22">30 min</text>
<line x1="51.80" y1="355.46" x2="72.00" y2="355.46" stroke="#f07878" stroke-width="1.0" />
<circle cx="61.90" cy="355.46" r="1.8" fill="#ee0000"/>
<text x="73.70" y="358.46" font-size="8.0" fill="#2a2a2a" textLength="25.90" lengthAdjust="spacing" stroke="#2a2a2a" stroke-width="0.22">60 min</text>
<line x1="51.80" y1="365.42" x2="72.00" y2="365.42" stroke="#78e078" stroke-width="1.5" />
<polygon points="61.90,363.12 64.10,366.92 59.70,366.92" fill="#00d000"/>
<text x="73.70" y="368.42" font-size="8.0" fill="#2a2a2a" textLength="25.90" lengthAdjust="spacing" stroke="#2a2a2a" stroke-width="0.22">90 min</text>
<line x1="51.80" y1="375.38" x2="72.00" y2="375.38" stroke="#7878e0" stroke-width="1.0" />
<polygon points="61.90,377.68 64.10,373.88 59.70,373.88" fill="#0000dd"/>
<text x="73.70" y="378.38" font-size="8.0" fill="#2a2a2a" textLength="30.80" lengthAdjust="spacing" stroke="#2a2a2a" stroke-width="0.22">120 min</text>
<line x1="51.80" y1="385.34" x2="72.00" y2="385.34" stroke="#68e8e8" stroke-width="1.0" />
<polygon points="61.90,383.04 64.20,385.34 61.90,387.64 59.60,385.34" fill="#00e8e8"/>
<text x="73.70" y="388.34" font-size="8.0" fill="#2a2a2a" textLength="30.80" lengthAdjust="spacing" stroke="#2a2a2a" stroke-width="0.22">150 min</text>
<line x1="51.80" y1="395.30" x2="72.00" y2="395.30" stroke="#e058e0" stroke-width="1.0" />
<polygon points="59.60,395.30 63.40,393.10 63.40,397.50" fill="#ee00ee"/>
<text x="73.70" y="398.30" font-size="8.0" fill="#2a2a2a" textLength="30.80" lengthAdjust="spacing" stroke="#2a2a2a" stroke-width="0.22">180 min</text>
<rect x="1.10" y="320.00" width="17.70" height="17.30" fill="#b4b4b4"/>
<text x="9.95" y="334.90" font-size="20" text-anchor="middle" fill="#000" font-family="Liberation Serif, Times New Roman, serif">h</text>
<line x1="270.50" y1="339.00" x2="270.50" y2="471.20" stroke="#666" stroke-width="1" />
<line x1="270.50" y1="471.20" x2="451.40" y2="471.20" stroke="#666" stroke-width="1" />
<line x1="268.00" y1="471.20" x2="270.50" y2="471.20" stroke="#666" stroke-width="1" />
<text x="264.50" y="473.70" font-size="7.7" text-anchor="end" fill="#262626" textLength="13.80" lengthAdjust="spacing" stroke="#262626" stroke-width="0.22">200</text>
<line x1="268.00" y1="452.27" x2="270.50" y2="452.27" stroke="#666" stroke-width="1" />
<text x="264.50" y="454.77" font-size="7.7" text-anchor="end" fill="#262626" textLength="13.80" lengthAdjust="spacing" stroke="#262626" stroke-width="0.22">210</text>
<line x1="268.00" y1="433.35" x2="270.50" y2="433.35" stroke="#666" stroke-width="1" />
<text x="264.50" y="435.85" font-size="7.7" text-anchor="end" fill="#262626" textLength="13.80" lengthAdjust="spacing" stroke="#262626" stroke-width="0.22">220</text>
<line x1="268.00" y1="414.42" x2="270.50" y2="414.42" stroke="#666" stroke-width="1" />
<text x="264.50" y="416.92" font-size="7.7" text-anchor="end" fill="#262626" textLength="13.80" lengthAdjust="spacing" stroke="#262626" stroke-width="0.22">230</text>
<line x1="268.00" y1="395.50" x2="270.50" y2="395.50" stroke="#666" stroke-width="1" />
<text x="264.50" y="398.00" font-size="7.7" text-anchor="end" fill="#262626" textLength="13.80" lengthAdjust="spacing" stroke="#262626" stroke-width="0.22">240</text>
<line x1="268.00" y1="376.57" x2="270.50" y2="376.57" stroke="#666" stroke-width="1" />
<text x="264.50" y="379.07" font-size="7.7" text-anchor="end" fill="#262626" textLength="13.80" lengthAdjust="spacing" stroke="#262626" stroke-width="0.22">250</text>
<line x1="268.00" y1="357.65" x2="270.50" y2="357.65" stroke="#666" stroke-width="1" />
<text x="264.50" y="360.15" font-size="7.7" text-anchor="end" fill="#262626" textLength="13.80" lengthAdjust="spacing" stroke="#262626" stroke-width="0.22">260</text>
<line x1="268.00" y1="338.73" x2="270.50" y2="338.73" stroke="#666" stroke-width="1" />
<text x="264.50" y="341.23" font-size="7.7" text-anchor="end" fill="#262626" textLength="13.80" lengthAdjust="spacing" stroke="#262626" stroke-width="0.22">270</text>
<line x1="269.00" y1="461.74" x2="270.50" y2="461.74" stroke="#666" stroke-width="0.8" />
<line x1="269.00" y1="442.81" x2="270.50" y2="442.81" stroke="#666" stroke-width="0.8" />
<line x1="269.00" y1="423.89" x2="270.50" y2="423.89" stroke="#666" stroke-width="0.8" />
<line x1="269.00" y1="404.96" x2="270.50" y2="404.96" stroke="#666" stroke-width="0.8" />
<line x1="269.00" y1="386.04" x2="270.50" y2="386.04" stroke="#666" stroke-width="0.8" />
<line x1="269.00" y1="367.11" x2="270.50" y2="367.11" stroke="#666" stroke-width="0.8" />
<line x1="269.00" y1="348.19" x2="270.50" y2="348.19" stroke="#666" stroke-width="0.8" />
<line x1="270.50" y1="471.20" x2="270.50" y2="469.20" stroke="#666" stroke-width="1" />
<text x="270.00" y="482.20" font-size="7.4" text-anchor="middle" fill="#262626" textLength="9.00" lengthAdjust="spacing" stroke="#262626" stroke-width="0.22">50</text>
<line x1="300.65" y1="471.20" x2="300.65" y2="469.20" stroke="#666" stroke-width="1" />
<text x="300.15" y="482.20" font-size="7.4" text-anchor="middle" fill="#262626" textLength="9.00" lengthAdjust="spacing" stroke="#262626" stroke-width="0.22">55</text>
<line x1="330.80" y1="471.20" x2="330.80" y2="469.20" stroke="#666" stroke-width="1" />
<text x="330.30" y="482.20" font-size="7.4" text-anchor="middle" fill="#262626" textLength="9.00" lengthAdjust="spacing" stroke="#262626" stroke-width="0.22">60</text>
<line x1="360.95" y1="471.20" x2="360.95" y2="469.20" stroke="#666" stroke-width="1" />
<text x="360.45" y="482.20" font-size="7.4" text-anchor="middle" fill="#262626" textLength="9.00" lengthAdjust="spacing" stroke="#262626" stroke-width="0.22">65</text>
<line x1="391.10" y1="471.20" x2="391.10" y2="469.20" stroke="#666" stroke-width="1" />
<text x="390.60" y="482.20" font-size="7.4" text-anchor="middle" fill="#262626" textLength="9.00" lengthAdjust="spacing" stroke="#262626" stroke-width="0.22">70</text>
<line x1="421.25" y1="471.20" x2="421.25" y2="469.20" stroke="#666" stroke-width="1" />
<text x="420.75" y="482.20" font-size="7.4" text-anchor="middle" fill="#262626" textLength="9.00" lengthAdjust="spacing" stroke="#262626" stroke-width="0.22">75</text>
<line x1="451.40" y1="471.20" x2="451.40" y2="469.20" stroke="#666" stroke-width="1" />
<text x="450.90" y="482.20" font-size="7.4" text-anchor="middle" fill="#262626" textLength="9.00" lengthAdjust="spacing" stroke="#262626" stroke-width="0.22">80</text>
<line x1="285.57" y1="471.20" x2="285.57" y2="470.00" stroke="#666" stroke-width="0.8" />
<line x1="315.73" y1="471.20" x2="315.73" y2="470.00" stroke="#666" stroke-width="0.8" />
<line x1="345.88" y1="471.20" x2="345.88" y2="470.00" stroke="#666" stroke-width="0.8" />
<line x1="376.02" y1="471.20" x2="376.02" y2="470.00" stroke="#666" stroke-width="0.8" />
<line x1="406.18" y1="471.20" x2="406.18" y2="470.00" stroke="#666" stroke-width="0.8" />
<line x1="436.33" y1="471.20" x2="436.33" y2="470.00" stroke="#666" stroke-width="0.8" />
<text x="242.6" y="397" font-size="9" text-anchor="middle" fill="#222" transform="rotate(-90 242.6 397)" textLength="87.6" lengthAdjust="spacing">Threshold (mJ/cm<tspan font-size="6" dy="-3.4">2</tspan><tspan dy="3.5">)</tspan></text>
<text x="360.60" y="495.60" font-size="9.8" text-anchor="middle" textLength="78.40" lengthAdjust="spacing" stroke="#222" stroke-width="0.25">Diameter (nm)</text>
<polyline points="292.21,454.17 335.02,454.17 374.22,359.54 417.63,359.54 424.26,454.17 441.15,454.17" fill="none" stroke="#a82020" stroke-width="1" stroke-linejoin="round" />
<polygon points="292.21,452.07 294.21,455.57 290.21,455.57" fill="#8a0c0c"/>
<polygon points="335.02,452.07 337.02,455.57 333.02,455.57" fill="#8a0c0c"/>
<polygon points="374.22,357.44 376.22,360.94 372.22,360.94" fill="#8a0c0c"/>
<polygon points="417.63,357.44 419.63,360.94 415.63,360.94" fill="#8a0c0c"/>
<polygon points="424.26,452.07 426.26,455.57 422.26,455.57" fill="#8a0c0c"/>
<polygon points="441.15,452.07 443.15,455.57 439.15,455.57" fill="#8a0c0c"/>
<rect x="229.00" y="318.40" width="18.00" height="18.30" fill="#b4b4b4"/>
<text x="238.00" y="333.50" font-size="20" text-anchor="middle" fill="#000" font-family="Liberation Serif, Times New Roman, serif">i</text>
<line x1="498.60" y1="336.50" x2="498.60" y2="468.50" stroke="#666" stroke-width="1" />
<line x1="498.60" y1="468.50" x2="678.40" y2="468.50" stroke="#666" stroke-width="1" />
<line x1="496.10" y1="457.30" x2="498.60" y2="457.30" stroke="#666" stroke-width="1" />
<text x="492.50" y="460.20" font-size="7.7" text-anchor="end" fill="#262626" textLength="14.10" lengthAdjust="spacing" stroke="#262626" stroke-width="0.22">210</text>
<line x1="496.10" y1="435.30" x2="498.60" y2="435.30" stroke="#666" stroke-width="1" />
<text x="492.50" y="438.20" font-size="7.7" text-anchor="end" fill="#262626" textLength="14.10" lengthAdjust="spacing" stroke="#262626" stroke-width="0.22">220</text>
<line x1="496.10" y1="413.30" x2="498.60" y2="413.30" stroke="#666" stroke-width="1" />
<text x="492.50" y="416.20" font-size="7.7" text-anchor="end" fill="#262626" textLength="14.10" lengthAdjust="spacing" stroke="#262626" stroke-width="0.22">230</text>
<line x1="496.10" y1="391.30" x2="498.60" y2="391.30" stroke="#666" stroke-width="1" />
<text x="492.50" y="394.20" font-size="7.7" text-anchor="end" fill="#262626" textLength="14.10" lengthAdjust="spacing" stroke="#262626" stroke-width="0.22">240</text>
<line x1="496.10" y1="369.30" x2="498.60" y2="369.30" stroke="#666" stroke-width="1" />
<text x="492.50" y="372.20" font-size="7.7" text-anchor="end" fill="#262626" textLength="14.10" lengthAdjust="spacing" stroke="#262626" stroke-width="0.22">250</text>
<line x1="496.10" y1="347.30" x2="498.60" y2="347.30" stroke="#666" stroke-width="1" />
<text x="492.50" y="350.20" font-size="7.7" text-anchor="end" fill="#262626" textLength="14.10" lengthAdjust="spacing" stroke="#262626" stroke-width="0.22">260</text>
<line x1="497.10" y1="468.30" x2="498.60" y2="468.30" stroke="#666" stroke-width="0.8" />
<line x1="497.10" y1="446.30" x2="498.60" y2="446.30" stroke="#666" stroke-width="0.8" />
<line x1="497.10" y1="424.30" x2="498.60" y2="424.30" stroke="#666" stroke-width="0.8" />
<line x1="497.10" y1="402.30" x2="498.60" y2="402.30" stroke="#666" stroke-width="0.8" />
<line x1="497.10" y1="380.30" x2="498.60" y2="380.30" stroke="#666" stroke-width="0.8" />
<line x1="497.10" y1="358.30" x2="498.60" y2="358.30" stroke="#666" stroke-width="0.8" />
<line x1="497.10" y1="336.30" x2="498.60" y2="336.30" stroke="#666" stroke-width="0.8" />
<line x1="498.60" y1="468.50" x2="498.60" y2="466.50" stroke="#666" stroke-width="1" />
<text x="498.40" y="479.00" font-size="7.7" text-anchor="middle" fill="#262626" textLength="9.10" lengthAdjust="spacing" stroke="#262626" stroke-width="0.22">70</text>
<line x1="521.07" y1="468.50" x2="521.07" y2="466.50" stroke="#666" stroke-width="1" />
<text x="520.87" y="479.00" font-size="7.7" text-anchor="middle" fill="#262626" textLength="9.10" lengthAdjust="spacing" stroke="#262626" stroke-width="0.22">75</text>
<line x1="543.54" y1="468.50" x2="543.54" y2="466.50" stroke="#666" stroke-width="1" />
<text x="543.34" y="479.00" font-size="7.7" text-anchor="middle" fill="#262626" textLength="9.10" lengthAdjust="spacing" stroke="#262626" stroke-width="0.22">80</text>
<line x1="566.01" y1="468.50" x2="566.01" y2="466.50" stroke="#666" stroke-width="1" />
<text x="565.81" y="479.00" font-size="7.7" text-anchor="middle" fill="#262626" textLength="9.10" lengthAdjust="spacing" stroke="#262626" stroke-width="0.22">85</text>
<line x1="588.48" y1="468.50" x2="588.48" y2="466.50" stroke="#666" stroke-width="1" />
<text x="588.28" y="479.00" font-size="7.7" text-anchor="middle" fill="#262626" textLength="9.10" lengthAdjust="spacing" stroke="#262626" stroke-width="0.22">90</text>
<line x1="610.95" y1="468.50" x2="610.95" y2="466.50" stroke="#666" stroke-width="1" />
<text x="610.75" y="479.00" font-size="7.7" text-anchor="middle" fill="#262626" textLength="9.10" lengthAdjust="spacing" stroke="#262626" stroke-width="0.22">95</text>
<line x1="633.42" y1="468.50" x2="633.42" y2="466.50" stroke="#666" stroke-width="1" />
<text x="633.22" y="479.00" font-size="7.7" text-anchor="middle" fill="#262626" textLength="13.60" lengthAdjust="spacing" stroke="#262626" stroke-width="0.22">100</text>
<line x1="655.89" y1="468.50" x2="655.89" y2="466.50" stroke="#666" stroke-width="1" />
<text x="655.69" y="479.00" font-size="7.7" text-anchor="middle" fill="#262626" textLength="13.60" lengthAdjust="spacing" stroke="#262626" stroke-width="0.22">105</text>
<line x1="678.36" y1="468.50" x2="678.36" y2="466.50" stroke="#666" stroke-width="1" />
<text x="678.16" y="479.00" font-size="7.7" text-anchor="middle" fill="#262626" textLength="13.60" lengthAdjust="spacing" stroke="#262626" stroke-width="0.22">110</text>
<line x1="509.84" y1="468.50" x2="509.84" y2="467.30" stroke="#666" stroke-width="0.8" />
<line x1="532.31" y1="468.50" x2="532.31" y2="467.30" stroke="#666" stroke-width="0.8" />
<line x1="554.77" y1="468.50" x2="554.77" y2="467.30" stroke="#666" stroke-width="0.8" />
<line x1="577.25" y1="468.50" x2="577.25" y2="467.30" stroke="#666" stroke-width="0.8" />
<line x1="599.72" y1="468.50" x2="599.72" y2="467.30" stroke="#666" stroke-width="0.8" />
<line x1="622.19" y1="468.50" x2="622.19" y2="467.30" stroke="#666" stroke-width="0.8" />
<line x1="644.65" y1="468.50" x2="644.65" y2="467.30" stroke="#666" stroke-width="0.8" />
<line x1="667.12" y1="468.50" x2="667.12" y2="467.30" stroke="#666" stroke-width="0.8" />
<text x="469" y="395" font-size="10" text-anchor="middle" fill="#222" transform="rotate(-90 469 395)" textLength="96" lengthAdjust="spacing">Threshold (mJ/cm<tspan font-size="6.6" dy="-3.6">2</tspan><tspan dy="3.6">)</tspan></text>
<text x="525.3" y="494.1" font-size="9.8" fill="#222" stroke="#222" stroke-width="0.25" textLength="126" lengthAdjust="spacing">Nanorod density (μm<tspan font-size="6.6" dy="-3.6">-2</tspan><tspan dy="3.6">)</tspan></text>
<polyline points="521.07,349.50 530.06,349.50 561.52,459.50 566.01,459.50 575.00,459.50 664.88,459.50" fill="none" stroke="#2838e8" stroke-width="1" stroke-linejoin="round" />
<circle cx="521.07" cy="349.50" r="1.6" fill="#1020e0"/>
<circle cx="530.06" cy="349.50" r="1.6" fill="#1020e0"/>
<circle cx="561.52" cy="459.50" r="1.6" fill="#1020e0"/>
<circle cx="566.01" cy="459.50" r="1.6" fill="#1020e0"/>
<circle cx="575.00" cy="459.50" r="1.6" fill="#1020e0"/>
<circle cx="664.88" cy="459.50" r="1.6" fill="#1020e0"/>
<rect x="452.20" y="319.50" width="18.80" height="18.40" fill="#b4b4b4"/>
<text x="461.60" y="333.40" font-size="20" text-anchor="middle" fill="#000" font-family="Liberation Serif, Times New Roman, serif">j</text>
</svg>
</body></html>
